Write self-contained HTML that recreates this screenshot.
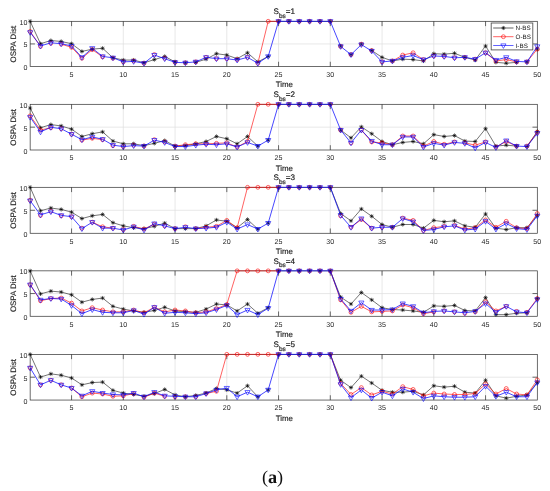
<!DOCTYPE html>
<html><head><meta charset="utf-8"><title>OSPA Dist</title>
<style>html,body{margin:0;padding:0;background:#fff}body{width:550px;height:491px;overflow:hidden}</style>
</head><body>
<svg width="550" height="491" viewBox="0 0 550 491" style="display:block;font-family:'Liberation Sans',sans-serif;text-rendering:geometricPrecision">
<rect width="550" height="491" fill="#fff"/>
<path d="M71.55 21.31V66.55M123.30 21.31V66.55M175.05 21.31V66.55M226.80 21.31V66.55M278.55 21.31V66.55M330.30 21.31V66.55M382.05 21.31V66.55M433.80 21.31V66.55M485.55 21.31V66.55M30.15 43.93H537.30" stroke="#dedede" stroke-width="0.7" fill="none"/>
<rect x="30.15" y="21.31" width="507.15" height="45.24" fill="none" stroke="#2e2e2e" stroke-width="0.7"/>
<path d="M71.55 66.55v-4.8M71.55 21.31v4.8M123.30 66.55v-4.8M123.30 21.31v4.8M175.05 66.55v-4.8M175.05 21.31v4.8M226.80 66.55v-4.8M226.80 21.31v4.8M278.55 66.55v-4.8M278.55 21.31v4.8M330.30 66.55v-4.8M330.30 21.31v4.8M382.05 66.55v-4.8M382.05 21.31v4.8M433.80 66.55v-4.8M433.80 21.31v4.8M485.55 66.55v-4.8M485.55 21.31v4.8M30.15 43.93h4.8M537.30 43.93h-4.8" stroke="#2e2e2e" stroke-width="0.7" fill="none"/>
<text x="71.55" y="76.95" font-size="7.1" fill="#262626" text-anchor="middle">5</text>
<text x="123.30" y="76.95" font-size="7.1" fill="#262626" text-anchor="middle">10</text>
<text x="175.05" y="76.95" font-size="7.1" fill="#262626" text-anchor="middle">15</text>
<text x="226.80" y="76.95" font-size="7.1" fill="#262626" text-anchor="middle">20</text>
<text x="278.55" y="76.95" font-size="7.1" fill="#262626" text-anchor="middle">25</text>
<text x="330.30" y="76.95" font-size="7.1" fill="#262626" text-anchor="middle">30</text>
<text x="382.05" y="76.95" font-size="7.1" fill="#262626" text-anchor="middle">35</text>
<text x="433.80" y="76.95" font-size="7.1" fill="#262626" text-anchor="middle">40</text>
<text x="485.55" y="76.95" font-size="7.1" fill="#262626" text-anchor="middle">45</text>
<text x="537.30" y="76.95" font-size="7.1" fill="#262626" text-anchor="middle">50</text>
<text x="27.35" y="70.05" font-size="7.1" fill="#262626" text-anchor="end">0</text>
<text x="27.35" y="47.43" font-size="7.1" fill="#262626" text-anchor="end">5</text>
<text x="27.35" y="24.81" font-size="7.1" fill="#262626" text-anchor="end">10</text>
<text x="284.32" y="87.25" font-size="7.9" fill="#262626" stroke="#262626" stroke-width="0.15" text-anchor="middle">Time</text>
<text transform="translate(15.8 44.13) rotate(-90)" font-size="7.9" fill="#262626" stroke="#262626" stroke-width="0.15" text-anchor="middle">OSPA Dist</text>
<text x="284.22" y="14.31" font-size="8.1" fill="#1a1a1a" stroke="#1a1a1a" stroke-width="0.18" text-anchor="middle">S<tspan font-size="6.48" dy="3.6">bs</tspan><tspan dy="-3.6">=1</tspan></text>
<path d="M30.15 21.31L40.50 43.71L50.85 40.53L61.20 41.44L71.55 43.71L81.90 51.43L92.25 49.16L102.60 48.25L112.95 57.79L123.30 60.06L133.65 60.06L144.00 62.79L154.35 59.61L164.70 56.43L175.05 61.88M195.75 62.33L206.10 59.15L216.45 53.70L226.80 55.06L237.15 58.70L247.50 52.79L257.85 61.88L268.20 56.43M371.70 50.52L382.05 57.34L392.40 60.97L402.75 59.15L413.10 59.61L423.45 60.97L433.80 53.70L444.15 54.16L454.50 53.25L464.85 57.34L475.20 60.06L485.55 45.98L495.90 62.33L506.25 63.24L516.60 62.33" stroke="#000000" stroke-width="0.55" fill="none" stroke-linejoin="round"/>
<path d="M28.05 21.31L32.25 21.31M28.67 19.83L31.63 22.79M30.15 19.21L30.15 23.41M31.63 19.83L28.67 22.79" stroke="#000000" stroke-width="0.6" fill="none"/>
<path d="M38.40 43.71L42.60 43.71M39.02 42.23L41.98 45.19M40.50 41.61L40.50 45.81M41.98 42.23L39.02 45.19" stroke="#000000" stroke-width="0.6" fill="none"/>
<path d="M48.75 40.53L52.95 40.53M49.37 39.05L52.33 42.02M50.85 38.43L50.85 42.63M52.33 39.05L49.37 42.02" stroke="#000000" stroke-width="0.6" fill="none"/>
<path d="M59.10 41.44L63.30 41.44M59.72 39.95L62.68 42.92M61.20 39.34L61.20 43.54M62.68 39.95L59.72 42.92" stroke="#000000" stroke-width="0.6" fill="none"/>
<path d="M69.45 43.71L73.65 43.71M70.07 42.23L73.03 45.19M71.55 41.61L71.55 45.81M73.03 42.23L70.07 45.19" stroke="#000000" stroke-width="0.6" fill="none"/>
<path d="M79.80 51.43L84.00 51.43M80.42 49.95L83.38 52.92M81.90 49.33L81.90 53.53M83.38 49.95L80.42 52.92" stroke="#000000" stroke-width="0.6" fill="none"/>
<path d="M90.15 49.16L94.35 49.16M90.77 47.68L93.73 50.65M92.25 47.06L92.25 51.26M93.73 47.68L90.77 50.65" stroke="#000000" stroke-width="0.6" fill="none"/>
<path d="M100.50 48.25L104.70 48.25M101.12 46.77L104.08 49.74M102.60 46.15L102.60 50.35M104.08 46.77L101.12 49.74" stroke="#000000" stroke-width="0.6" fill="none"/>
<path d="M110.85 57.79L115.05 57.79M111.47 56.31L114.43 59.28M112.95 55.69L112.95 59.89M114.43 56.31L111.47 59.28" stroke="#000000" stroke-width="0.6" fill="none"/>
<path d="M121.20 60.06L125.40 60.06M121.82 58.58L124.78 61.55M123.30 57.96L123.30 62.16M124.78 58.58L121.82 61.55" stroke="#000000" stroke-width="0.6" fill="none"/>
<path d="M131.55 60.06L135.75 60.06M132.17 58.58L135.13 61.55M133.65 57.96L133.65 62.16M135.13 58.58L132.17 61.55" stroke="#000000" stroke-width="0.6" fill="none"/>
<path d="M141.90 62.79L146.10 62.79M142.52 61.30L145.48 64.27M144.00 60.69L144.00 64.89M145.48 61.30L142.52 64.27" stroke="#000000" stroke-width="0.6" fill="none"/>
<path d="M152.25 59.61L156.45 59.61M152.87 58.12L155.83 61.09M154.35 57.51L154.35 61.71M155.83 58.12L152.87 61.09" stroke="#000000" stroke-width="0.6" fill="none"/>
<path d="M162.60 56.43L166.80 56.43M163.22 54.94L166.18 57.91M164.70 54.33L164.70 58.53M166.18 54.94L163.22 57.91" stroke="#000000" stroke-width="0.6" fill="none"/>
<path d="M172.95 61.88L177.15 61.88M173.57 60.39L176.53 63.36M175.05 59.78L175.05 63.98M176.53 60.39L173.57 63.36" stroke="#000000" stroke-width="0.6" fill="none"/>
<path d="M183.30 62.79L187.50 62.79M183.92 61.30L186.88 64.27M185.40 60.69L185.40 64.89M186.88 61.30L183.92 64.27" stroke="#000000" stroke-width="0.6" fill="none"/>
<path d="M193.65 62.33L197.85 62.33M194.27 60.85L197.23 63.82M195.75 60.23L195.75 64.43M197.23 60.85L194.27 63.82" stroke="#000000" stroke-width="0.6" fill="none"/>
<path d="M204.00 59.15L208.20 59.15M204.62 57.67L207.58 60.64M206.10 57.05L206.10 61.25M207.58 57.67L204.62 60.64" stroke="#000000" stroke-width="0.6" fill="none"/>
<path d="M214.35 53.70L218.55 53.70M214.97 52.22L217.93 55.19M216.45 51.60L216.45 55.80M217.93 52.22L214.97 55.19" stroke="#000000" stroke-width="0.6" fill="none"/>
<path d="M224.70 55.06L228.90 55.06M225.32 53.58L228.28 56.55M226.80 52.96L226.80 57.16M228.28 53.58L225.32 56.55" stroke="#000000" stroke-width="0.6" fill="none"/>
<path d="M235.05 58.70L239.25 58.70M235.67 57.21L238.63 60.18M237.15 56.60L237.15 60.80M238.63 57.21L235.67 60.18" stroke="#000000" stroke-width="0.6" fill="none"/>
<path d="M245.40 52.79L249.60 52.79M246.02 51.31L248.98 54.28M247.50 50.69L247.50 54.89M248.98 51.31L246.02 54.28" stroke="#000000" stroke-width="0.6" fill="none"/>
<path d="M255.75 61.88L259.95 61.88M256.37 60.39L259.33 63.36M257.85 59.78L257.85 63.98M259.33 60.39L256.37 63.36" stroke="#000000" stroke-width="0.6" fill="none"/>
<path d="M266.10 56.43L270.30 56.43M266.72 54.94L269.68 57.91M268.20 54.33L268.20 58.53M269.68 54.94L266.72 57.91" stroke="#000000" stroke-width="0.6" fill="none"/>
<path d="M276.45 21.31L280.65 21.31M277.07 19.83L280.03 22.79M278.55 19.21L278.55 23.41M280.03 19.83L277.07 22.79" stroke="#000000" stroke-width="0.6" fill="none"/>
<path d="M286.80 21.31L291.00 21.31M287.42 19.83L290.38 22.79M288.90 19.21L288.90 23.41M290.38 19.83L287.42 22.79" stroke="#000000" stroke-width="0.6" fill="none"/>
<path d="M297.15 21.31L301.35 21.31M297.77 19.83L300.73 22.79M299.25 19.21L299.25 23.41M300.73 19.83L297.77 22.79" stroke="#000000" stroke-width="0.6" fill="none"/>
<path d="M307.50 21.31L311.70 21.31M308.12 19.83L311.08 22.79M309.60 19.21L309.60 23.41M311.08 19.83L308.12 22.79" stroke="#000000" stroke-width="0.6" fill="none"/>
<path d="M317.85 21.31L322.05 21.31M318.47 19.83L321.43 22.79M319.95 19.21L319.95 23.41M321.43 19.83L318.47 22.79" stroke="#000000" stroke-width="0.6" fill="none"/>
<path d="M328.20 21.31L332.40 21.31M328.82 19.83L331.78 22.79M330.30 19.21L330.30 23.41M331.78 19.83L328.82 22.79" stroke="#000000" stroke-width="0.6" fill="none"/>
<path d="M338.55 45.98L342.75 45.98M339.17 44.50L342.13 47.47M340.65 43.88L340.65 48.08M342.13 44.50L339.17 47.47" stroke="#000000" stroke-width="0.6" fill="none"/>
<path d="M348.90 54.61L353.10 54.61M349.52 53.13L352.48 56.10M351.00 52.51L351.00 56.71M352.48 53.13L349.52 56.10" stroke="#000000" stroke-width="0.6" fill="none"/>
<path d="M359.25 44.16L363.45 44.16M359.87 42.68L362.83 45.65M361.35 42.06L361.35 46.26M362.83 42.68L359.87 45.65" stroke="#000000" stroke-width="0.6" fill="none"/>
<path d="M369.60 50.52L373.80 50.52M370.22 49.04L373.18 52.01M371.70 48.42L371.70 52.62M373.18 49.04L370.22 52.01" stroke="#000000" stroke-width="0.6" fill="none"/>
<path d="M379.95 57.34L384.15 57.34M380.57 55.85L383.53 58.82M382.05 55.24L382.05 59.44M383.53 55.85L380.57 58.82" stroke="#000000" stroke-width="0.6" fill="none"/>
<path d="M390.30 60.97L394.50 60.97M390.92 59.48L393.88 62.45M392.40 58.87L392.40 63.07M393.88 59.48L390.92 62.45" stroke="#000000" stroke-width="0.6" fill="none"/>
<path d="M400.65 59.15L404.85 59.15M401.27 57.67L404.23 60.64M402.75 57.05L402.75 61.25M404.23 57.67L401.27 60.64" stroke="#000000" stroke-width="0.6" fill="none"/>
<path d="M411.00 59.61L415.20 59.61M411.62 58.12L414.58 61.09M413.10 57.51L413.10 61.71M414.58 58.12L411.62 61.09" stroke="#000000" stroke-width="0.6" fill="none"/>
<path d="M421.35 60.97L425.55 60.97M421.97 59.48L424.93 62.45M423.45 58.87L423.45 63.07M424.93 59.48L421.97 62.45" stroke="#000000" stroke-width="0.6" fill="none"/>
<path d="M431.70 53.70L435.90 53.70M432.32 52.22L435.28 55.19M433.80 51.60L433.80 55.80M435.28 52.22L432.32 55.19" stroke="#000000" stroke-width="0.6" fill="none"/>
<path d="M442.05 54.16L446.25 54.16M442.67 52.67L445.63 55.64M444.15 52.06L444.15 56.26M445.63 52.67L442.67 55.64" stroke="#000000" stroke-width="0.6" fill="none"/>
<path d="M452.40 53.25L456.60 53.25M453.02 51.76L455.98 54.73M454.50 51.15L454.50 55.35M455.98 51.76L453.02 54.73" stroke="#000000" stroke-width="0.6" fill="none"/>
<path d="M462.75 57.34L466.95 57.34M463.37 55.85L466.33 58.82M464.85 55.24L464.85 59.44M466.33 55.85L463.37 58.82" stroke="#000000" stroke-width="0.6" fill="none"/>
<path d="M473.10 60.06L477.30 60.06M473.72 58.58L476.68 61.55M475.20 57.96L475.20 62.16M476.68 58.58L473.72 61.55" stroke="#000000" stroke-width="0.6" fill="none"/>
<path d="M483.45 45.98L487.65 45.98M484.07 44.50L487.03 47.47M485.55 43.88L485.55 48.08M487.03 44.50L484.07 47.47" stroke="#000000" stroke-width="0.6" fill="none"/>
<path d="M493.80 62.33L498.00 62.33M494.42 60.85L497.38 63.82M495.90 60.23L495.90 64.43M497.38 60.85L494.42 63.82" stroke="#000000" stroke-width="0.6" fill="none"/>
<path d="M504.15 63.24L508.35 63.24M504.77 61.76L507.73 64.73M506.25 61.14L506.25 65.34M507.73 61.76L504.77 64.73" stroke="#000000" stroke-width="0.6" fill="none"/>
<path d="M514.50 62.33L518.70 62.33M515.12 60.85L518.08 63.82M516.60 60.23L516.60 64.43M518.08 60.85L515.12 63.82" stroke="#000000" stroke-width="0.6" fill="none"/>
<path d="M524.85 61.88L529.05 61.88M525.47 60.39L528.43 63.36M526.95 59.78L526.95 63.98M528.43 60.39L525.47 63.36" stroke="#000000" stroke-width="0.6" fill="none"/>
<path d="M535.20 49.16L539.40 49.16M535.82 47.68L538.78 50.65M537.30 47.06L537.30 51.26M538.78 47.68L535.82 50.65" stroke="#000000" stroke-width="0.6" fill="none"/>
<path d="M30.15 31.45L40.50 46.44M61.20 44.16L71.55 47.34L81.90 58.24L92.25 49.61L102.60 56.88M257.85 63.24L268.20 21.31L278.55 21.31M392.40 60.97L402.75 55.06L413.10 52.79L423.45 59.61M485.55 52.79L495.90 60.97L506.25 59.61L516.60 61.88M526.95 61.88L537.30 49.16" stroke="#ff0000" stroke-width="0.62" fill="none" stroke-linejoin="round"/>
<circle cx="30.15" cy="31.45" r="1.95" stroke="#ff0000" stroke-width="0.6" fill="none"/>
<circle cx="40.50" cy="46.44" r="1.95" stroke="#ff0000" stroke-width="0.6" fill="none"/>
<circle cx="50.85" cy="43.26" r="1.95" stroke="#ff0000" stroke-width="0.6" fill="none"/>
<circle cx="61.20" cy="44.16" r="1.95" stroke="#ff0000" stroke-width="0.6" fill="none"/>
<circle cx="71.55" cy="47.34" r="1.95" stroke="#ff0000" stroke-width="0.6" fill="none"/>
<circle cx="81.90" cy="58.24" r="1.95" stroke="#ff0000" stroke-width="0.6" fill="none"/>
<circle cx="92.25" cy="49.61" r="1.95" stroke="#ff0000" stroke-width="0.6" fill="none"/>
<circle cx="102.60" cy="56.88" r="1.95" stroke="#ff0000" stroke-width="0.6" fill="none"/>
<circle cx="112.95" cy="58.24" r="1.95" stroke="#ff0000" stroke-width="0.6" fill="none"/>
<circle cx="123.30" cy="61.88" r="1.95" stroke="#ff0000" stroke-width="0.6" fill="none"/>
<circle cx="133.65" cy="60.97" r="1.95" stroke="#ff0000" stroke-width="0.6" fill="none"/>
<circle cx="144.00" cy="63.24" r="1.95" stroke="#ff0000" stroke-width="0.6" fill="none"/>
<circle cx="154.35" cy="54.61" r="1.95" stroke="#ff0000" stroke-width="0.6" fill="none"/>
<circle cx="164.70" cy="58.24" r="1.95" stroke="#ff0000" stroke-width="0.6" fill="none"/>
<circle cx="175.05" cy="62.33" r="1.95" stroke="#ff0000" stroke-width="0.6" fill="none"/>
<circle cx="185.40" cy="62.79" r="1.95" stroke="#ff0000" stroke-width="0.6" fill="none"/>
<circle cx="195.75" cy="61.88" r="1.95" stroke="#ff0000" stroke-width="0.6" fill="none"/>
<circle cx="206.10" cy="57.34" r="1.95" stroke="#ff0000" stroke-width="0.6" fill="none"/>
<circle cx="216.45" cy="58.70" r="1.95" stroke="#ff0000" stroke-width="0.6" fill="none"/>
<circle cx="226.80" cy="58.70" r="1.95" stroke="#ff0000" stroke-width="0.6" fill="none"/>
<circle cx="237.15" cy="59.61" r="1.95" stroke="#ff0000" stroke-width="0.6" fill="none"/>
<circle cx="247.50" cy="57.34" r="1.95" stroke="#ff0000" stroke-width="0.6" fill="none"/>
<circle cx="257.85" cy="63.24" r="1.95" stroke="#ff0000" stroke-width="0.6" fill="none"/>
<circle cx="268.20" cy="21.31" r="1.95" stroke="#ff0000" stroke-width="0.6" fill="none"/>
<circle cx="278.55" cy="21.31" r="1.95" stroke="#ff0000" stroke-width="0.6" fill="none"/>
<circle cx="288.90" cy="21.31" r="1.95" stroke="#ff0000" stroke-width="0.6" fill="none"/>
<circle cx="299.25" cy="21.31" r="1.95" stroke="#ff0000" stroke-width="0.6" fill="none"/>
<circle cx="309.60" cy="21.31" r="1.95" stroke="#ff0000" stroke-width="0.6" fill="none"/>
<circle cx="319.95" cy="21.31" r="1.95" stroke="#ff0000" stroke-width="0.6" fill="none"/>
<circle cx="330.30" cy="21.31" r="1.95" stroke="#ff0000" stroke-width="0.6" fill="none"/>
<circle cx="340.65" cy="46.44" r="1.95" stroke="#ff0000" stroke-width="0.6" fill="none"/>
<circle cx="351.00" cy="54.61" r="1.95" stroke="#ff0000" stroke-width="0.6" fill="none"/>
<circle cx="361.35" cy="44.16" r="1.95" stroke="#ff0000" stroke-width="0.6" fill="none"/>
<circle cx="371.70" cy="50.52" r="1.95" stroke="#ff0000" stroke-width="0.6" fill="none"/>
<circle cx="382.05" cy="61.88" r="1.95" stroke="#ff0000" stroke-width="0.6" fill="none"/>
<circle cx="392.40" cy="60.97" r="1.95" stroke="#ff0000" stroke-width="0.6" fill="none"/>
<circle cx="402.75" cy="55.06" r="1.95" stroke="#ff0000" stroke-width="0.6" fill="none"/>
<circle cx="413.10" cy="52.79" r="1.95" stroke="#ff0000" stroke-width="0.6" fill="none"/>
<circle cx="423.45" cy="59.61" r="1.95" stroke="#ff0000" stroke-width="0.6" fill="none"/>
<circle cx="433.80" cy="55.97" r="1.95" stroke="#ff0000" stroke-width="0.6" fill="none"/>
<circle cx="444.15" cy="56.43" r="1.95" stroke="#ff0000" stroke-width="0.6" fill="none"/>
<circle cx="454.50" cy="57.79" r="1.95" stroke="#ff0000" stroke-width="0.6" fill="none"/>
<circle cx="464.85" cy="57.34" r="1.95" stroke="#ff0000" stroke-width="0.6" fill="none"/>
<circle cx="475.20" cy="59.15" r="1.95" stroke="#ff0000" stroke-width="0.6" fill="none"/>
<circle cx="485.55" cy="52.79" r="1.95" stroke="#ff0000" stroke-width="0.6" fill="none"/>
<circle cx="495.90" cy="60.97" r="1.95" stroke="#ff0000" stroke-width="0.6" fill="none"/>
<circle cx="506.25" cy="59.61" r="1.95" stroke="#ff0000" stroke-width="0.6" fill="none"/>
<circle cx="516.60" cy="61.88" r="1.95" stroke="#ff0000" stroke-width="0.6" fill="none"/>
<circle cx="526.95" cy="61.88" r="1.95" stroke="#ff0000" stroke-width="0.6" fill="none"/>
<circle cx="537.30" cy="49.16" r="1.95" stroke="#ff0000" stroke-width="0.6" fill="none"/>
<path d="M30.15 32.36L40.50 45.98L50.85 42.80L61.20 43.71L71.55 45.98L81.90 57.34L92.25 48.25L102.60 56.43L112.95 57.79L123.30 61.88L133.65 61.42L144.00 63.24L154.35 55.06L164.70 58.70L175.05 62.33L185.40 62.79L195.75 61.88L206.10 57.34L216.45 58.70L226.80 58.70L237.15 60.06L247.50 57.34L257.85 63.24L268.20 56.43L278.55 21.31L288.90 21.31L299.25 21.31L309.60 21.31L319.95 21.31L330.30 21.31L340.65 46.44L351.00 54.61L361.35 44.62L371.70 50.98L382.05 61.88L392.40 60.97L402.75 57.34L413.10 55.52L423.45 59.61L433.80 55.97L444.15 56.43L454.50 57.79L464.85 57.34L475.20 59.15L485.55 52.79L495.90 60.06L506.25 57.34L516.60 61.42L526.95 61.88L537.30 46.44" stroke="#0000ff" stroke-width="0.72" fill="none" stroke-linejoin="round"/>
<path d="M27.55 30.76L32.75 30.76L30.15 35.26Z" stroke="#0000ff" stroke-width="0.6" fill="none"/>
<path d="M37.90 44.38L43.10 44.38L40.50 48.88Z" stroke="#0000ff" stroke-width="0.6" fill="none"/>
<path d="M48.25 41.20L53.45 41.20L50.85 45.70Z" stroke="#0000ff" stroke-width="0.6" fill="none"/>
<path d="M58.60 42.11L63.80 42.11L61.20 46.61Z" stroke="#0000ff" stroke-width="0.6" fill="none"/>
<path d="M68.95 44.38L74.15 44.38L71.55 48.88Z" stroke="#0000ff" stroke-width="0.6" fill="none"/>
<path d="M79.30 55.74L84.50 55.74L81.90 60.24Z" stroke="#0000ff" stroke-width="0.6" fill="none"/>
<path d="M89.65 46.65L94.85 46.65L92.25 51.15Z" stroke="#0000ff" stroke-width="0.6" fill="none"/>
<path d="M100.00 54.83L105.20 54.83L102.60 59.33Z" stroke="#0000ff" stroke-width="0.6" fill="none"/>
<path d="M110.35 56.19L115.55 56.19L112.95 60.69Z" stroke="#0000ff" stroke-width="0.6" fill="none"/>
<path d="M120.70 60.28L125.90 60.28L123.30 64.78Z" stroke="#0000ff" stroke-width="0.6" fill="none"/>
<path d="M131.05 59.82L136.25 59.82L133.65 64.32Z" stroke="#0000ff" stroke-width="0.6" fill="none"/>
<path d="M141.40 61.64L146.60 61.64L144.00 66.14Z" stroke="#0000ff" stroke-width="0.6" fill="none"/>
<path d="M151.75 53.46L156.95 53.46L154.35 57.96Z" stroke="#0000ff" stroke-width="0.6" fill="none"/>
<path d="M162.10 57.10L167.30 57.10L164.70 61.60Z" stroke="#0000ff" stroke-width="0.6" fill="none"/>
<path d="M172.45 60.73L177.65 60.73L175.05 65.23Z" stroke="#0000ff" stroke-width="0.6" fill="none"/>
<path d="M182.80 61.19L188.00 61.19L185.40 65.69Z" stroke="#0000ff" stroke-width="0.6" fill="none"/>
<path d="M193.15 60.28L198.35 60.28L195.75 64.78Z" stroke="#0000ff" stroke-width="0.6" fill="none"/>
<path d="M203.50 55.74L208.70 55.74L206.10 60.24Z" stroke="#0000ff" stroke-width="0.6" fill="none"/>
<path d="M213.85 57.10L219.05 57.10L216.45 61.60Z" stroke="#0000ff" stroke-width="0.6" fill="none"/>
<path d="M224.20 57.10L229.40 57.10L226.80 61.60Z" stroke="#0000ff" stroke-width="0.6" fill="none"/>
<path d="M234.55 58.46L239.75 58.46L237.15 62.96Z" stroke="#0000ff" stroke-width="0.6" fill="none"/>
<path d="M244.90 55.74L250.10 55.74L247.50 60.24Z" stroke="#0000ff" stroke-width="0.6" fill="none"/>
<path d="M255.25 61.64L260.45 61.64L257.85 66.14Z" stroke="#0000ff" stroke-width="0.6" fill="none"/>
<path d="M265.60 54.83L270.80 54.83L268.20 59.33Z" stroke="#0000ff" stroke-width="0.6" fill="none"/>
<path d="M275.95 19.71L281.15 19.71L278.55 24.21Z" stroke="#0000ff" stroke-width="0.6" fill="none"/>
<path d="M286.30 19.71L291.50 19.71L288.90 24.21Z" stroke="#0000ff" stroke-width="0.6" fill="none"/>
<path d="M296.65 19.71L301.85 19.71L299.25 24.21Z" stroke="#0000ff" stroke-width="0.6" fill="none"/>
<path d="M307.00 19.71L312.20 19.71L309.60 24.21Z" stroke="#0000ff" stroke-width="0.6" fill="none"/>
<path d="M317.35 19.71L322.55 19.71L319.95 24.21Z" stroke="#0000ff" stroke-width="0.6" fill="none"/>
<path d="M327.70 19.71L332.90 19.71L330.30 24.21Z" stroke="#0000ff" stroke-width="0.6" fill="none"/>
<path d="M338.05 44.84L343.25 44.84L340.65 49.34Z" stroke="#0000ff" stroke-width="0.6" fill="none"/>
<path d="M348.40 53.01L353.60 53.01L351.00 57.51Z" stroke="#0000ff" stroke-width="0.6" fill="none"/>
<path d="M358.75 43.02L363.95 43.02L361.35 47.52Z" stroke="#0000ff" stroke-width="0.6" fill="none"/>
<path d="M369.10 49.38L374.30 49.38L371.70 53.88Z" stroke="#0000ff" stroke-width="0.6" fill="none"/>
<path d="M379.45 60.28L384.65 60.28L382.05 64.78Z" stroke="#0000ff" stroke-width="0.6" fill="none"/>
<path d="M389.80 59.37L395.00 59.37L392.40 63.87Z" stroke="#0000ff" stroke-width="0.6" fill="none"/>
<path d="M400.15 55.74L405.35 55.74L402.75 60.24Z" stroke="#0000ff" stroke-width="0.6" fill="none"/>
<path d="M410.50 53.92L415.70 53.92L413.10 58.42Z" stroke="#0000ff" stroke-width="0.6" fill="none"/>
<path d="M420.85 58.01L426.05 58.01L423.45 62.51Z" stroke="#0000ff" stroke-width="0.6" fill="none"/>
<path d="M431.20 54.37L436.40 54.37L433.80 58.87Z" stroke="#0000ff" stroke-width="0.6" fill="none"/>
<path d="M441.55 54.83L446.75 54.83L444.15 59.33Z" stroke="#0000ff" stroke-width="0.6" fill="none"/>
<path d="M451.90 56.19L457.10 56.19L454.50 60.69Z" stroke="#0000ff" stroke-width="0.6" fill="none"/>
<path d="M462.25 55.74L467.45 55.74L464.85 60.24Z" stroke="#0000ff" stroke-width="0.6" fill="none"/>
<path d="M472.60 57.55L477.80 57.55L475.20 62.05Z" stroke="#0000ff" stroke-width="0.6" fill="none"/>
<path d="M482.95 51.19L488.15 51.19L485.55 55.69Z" stroke="#0000ff" stroke-width="0.6" fill="none"/>
<path d="M493.30 58.46L498.50 58.46L495.90 62.96Z" stroke="#0000ff" stroke-width="0.6" fill="none"/>
<path d="M503.65 55.74L508.85 55.74L506.25 60.24Z" stroke="#0000ff" stroke-width="0.6" fill="none"/>
<path d="M514.00 59.82L519.20 59.82L516.60 64.32Z" stroke="#0000ff" stroke-width="0.6" fill="none"/>
<path d="M524.35 60.28L529.55 60.28L526.95 64.78Z" stroke="#0000ff" stroke-width="0.6" fill="none"/>
<path d="M534.70 44.84L539.90 44.84L537.30 49.34Z" stroke="#0000ff" stroke-width="0.6" fill="none"/>
<path d="M71.55 104.31V150.00M123.30 104.31V150.00M175.05 104.31V150.00M226.80 104.31V150.00M278.55 104.31V150.00M330.30 104.31V150.00M382.05 104.31V150.00M433.80 104.31V150.00M485.55 104.31V150.00M30.15 127.16H537.30" stroke="#dedede" stroke-width="0.7" fill="none"/>
<rect x="30.15" y="104.31" width="507.15" height="45.69" fill="none" stroke="#2e2e2e" stroke-width="0.7"/>
<path d="M71.55 150.00v-4.8M71.55 104.31v4.8M123.30 150.00v-4.8M123.30 104.31v4.8M175.05 150.00v-4.8M175.05 104.31v4.8M226.80 150.00v-4.8M226.80 104.31v4.8M278.55 150.00v-4.8M278.55 104.31v4.8M330.30 150.00v-4.8M330.30 104.31v4.8M382.05 150.00v-4.8M382.05 104.31v4.8M433.80 150.00v-4.8M433.80 104.31v4.8M485.55 150.00v-4.8M485.55 104.31v4.8M30.15 127.16h4.8M537.30 127.16h-4.8" stroke="#2e2e2e" stroke-width="0.7" fill="none"/>
<text x="71.55" y="160.40" font-size="7.1" fill="#262626" text-anchor="middle">5</text>
<text x="123.30" y="160.40" font-size="7.1" fill="#262626" text-anchor="middle">10</text>
<text x="175.05" y="160.40" font-size="7.1" fill="#262626" text-anchor="middle">15</text>
<text x="226.80" y="160.40" font-size="7.1" fill="#262626" text-anchor="middle">20</text>
<text x="278.55" y="160.40" font-size="7.1" fill="#262626" text-anchor="middle">25</text>
<text x="330.30" y="160.40" font-size="7.1" fill="#262626" text-anchor="middle">30</text>
<text x="382.05" y="160.40" font-size="7.1" fill="#262626" text-anchor="middle">35</text>
<text x="433.80" y="160.40" font-size="7.1" fill="#262626" text-anchor="middle">40</text>
<text x="485.55" y="160.40" font-size="7.1" fill="#262626" text-anchor="middle">45</text>
<text x="537.30" y="160.40" font-size="7.1" fill="#262626" text-anchor="middle">50</text>
<text x="27.35" y="153.50" font-size="7.1" fill="#262626" text-anchor="end">0</text>
<text x="27.35" y="130.66" font-size="7.1" fill="#262626" text-anchor="end">5</text>
<text x="27.35" y="107.81" font-size="7.1" fill="#262626" text-anchor="end">10</text>
<text x="284.32" y="170.70" font-size="7.9" fill="#262626" stroke="#262626" stroke-width="0.15" text-anchor="middle">Time</text>
<text transform="translate(15.8 127.36) rotate(-90)" font-size="7.9" fill="#262626" stroke="#262626" stroke-width="0.15" text-anchor="middle">OSPA Dist</text>
<text x="284.22" y="97.31" font-size="8.1" fill="#1a1a1a" stroke="#1a1a1a" stroke-width="0.18" text-anchor="middle">S<tspan font-size="6.48" dy="3.6">bs</tspan><tspan dy="-3.6">=2</tspan></text>
<path d="M30.15 108.08L40.50 127.77L50.85 124.56L61.20 125.94L71.55 129.14L81.90 136.47L92.25 133.72L102.60 131.89L112.95 141.05L123.30 143.80L133.65 143.80L144.00 145.63L154.35 143.34L164.70 140.59L175.05 146.09L185.40 145.63L195.75 143.80L206.10 141.51L216.45 136.47L226.80 138.76L237.15 143.80L247.50 136.47L257.85 146.09M340.65 130.06L351.00 137.85L361.35 126.85L371.70 133.72L382.05 141.51L392.40 144.72L402.75 142.43L413.10 141.51L423.45 143.80L433.80 134.64L444.15 136.47L454.50 135.56L464.85 141.05L475.20 141.51L485.55 128.69L495.90 146.09L506.25 145.17L516.60 146.09M526.95 146.55L537.30 131.43" stroke="#000000" stroke-width="0.55" fill="none" stroke-linejoin="round"/>
<path d="M28.05 108.08L32.25 108.08M28.67 106.59L31.63 109.56M30.15 105.98L30.15 110.18M31.63 106.59L28.67 109.56" stroke="#000000" stroke-width="0.6" fill="none"/>
<path d="M38.40 127.77L42.60 127.77M39.02 126.29L41.98 129.25M40.50 125.67L40.50 129.87M41.98 126.29L39.02 129.25" stroke="#000000" stroke-width="0.6" fill="none"/>
<path d="M48.75 124.56L52.95 124.56M49.37 123.08L52.33 126.05M50.85 122.46L50.85 126.66M52.33 123.08L49.37 126.05" stroke="#000000" stroke-width="0.6" fill="none"/>
<path d="M59.10 125.94L63.30 125.94M59.72 124.45L62.68 127.42M61.20 123.84L61.20 128.04M62.68 124.45L59.72 127.42" stroke="#000000" stroke-width="0.6" fill="none"/>
<path d="M69.45 129.14L73.65 129.14M70.07 127.66L73.03 130.63M71.55 127.04L71.55 131.24M73.03 127.66L70.07 130.63" stroke="#000000" stroke-width="0.6" fill="none"/>
<path d="M79.80 136.47L84.00 136.47M80.42 134.99L83.38 137.96M81.90 134.37L81.90 138.57M83.38 134.99L80.42 137.96" stroke="#000000" stroke-width="0.6" fill="none"/>
<path d="M90.15 133.72L94.35 133.72M90.77 132.24L93.73 135.21M92.25 131.62L92.25 135.82M93.73 132.24L90.77 135.21" stroke="#000000" stroke-width="0.6" fill="none"/>
<path d="M100.50 131.89L104.70 131.89M101.12 130.41L104.08 133.38M102.60 129.79L102.60 133.99M104.08 130.41L101.12 133.38" stroke="#000000" stroke-width="0.6" fill="none"/>
<path d="M110.85 141.05L115.05 141.05M111.47 139.57L114.43 142.54M112.95 138.95L112.95 143.15M114.43 139.57L111.47 142.54" stroke="#000000" stroke-width="0.6" fill="none"/>
<path d="M121.20 143.80L125.40 143.80M121.82 142.32L124.78 145.28M123.30 141.70L123.30 145.90M124.78 142.32L121.82 145.28" stroke="#000000" stroke-width="0.6" fill="none"/>
<path d="M131.55 143.80L135.75 143.80M132.17 142.32L135.13 145.28M133.65 141.70L133.65 145.90M135.13 142.32L132.17 145.28" stroke="#000000" stroke-width="0.6" fill="none"/>
<path d="M141.90 145.63L146.10 145.63M142.52 144.15L145.48 147.12M144.00 143.53L144.00 147.73M145.48 144.15L142.52 147.12" stroke="#000000" stroke-width="0.6" fill="none"/>
<path d="M152.25 143.34L156.45 143.34M152.87 141.86L155.83 144.83M154.35 141.24L154.35 145.44M155.83 141.86L152.87 144.83" stroke="#000000" stroke-width="0.6" fill="none"/>
<path d="M162.60 140.59L166.80 140.59M163.22 139.11L166.18 142.08M164.70 138.49L164.70 142.69M166.18 139.11L163.22 142.08" stroke="#000000" stroke-width="0.6" fill="none"/>
<path d="M172.95 146.09L177.15 146.09M173.57 144.61L176.53 147.57M175.05 143.99L175.05 148.19M176.53 144.61L173.57 147.57" stroke="#000000" stroke-width="0.6" fill="none"/>
<path d="M183.30 145.63L187.50 145.63M183.92 144.15L186.88 147.12M185.40 143.53L185.40 147.73M186.88 144.15L183.92 147.12" stroke="#000000" stroke-width="0.6" fill="none"/>
<path d="M193.65 143.80L197.85 143.80M194.27 142.32L197.23 145.28M195.75 141.70L195.75 145.90M197.23 142.32L194.27 145.28" stroke="#000000" stroke-width="0.6" fill="none"/>
<path d="M204.00 141.51L208.20 141.51M204.62 140.03L207.58 142.99M206.10 139.41L206.10 143.61M207.58 140.03L204.62 142.99" stroke="#000000" stroke-width="0.6" fill="none"/>
<path d="M214.35 136.47L218.55 136.47M214.97 134.99L217.93 137.96M216.45 134.37L216.45 138.57M217.93 134.99L214.97 137.96" stroke="#000000" stroke-width="0.6" fill="none"/>
<path d="M224.70 138.76L228.90 138.76M225.32 137.28L228.28 140.25M226.80 136.66L226.80 140.86M228.28 137.28L225.32 140.25" stroke="#000000" stroke-width="0.6" fill="none"/>
<path d="M235.05 143.80L239.25 143.80M235.67 142.32L238.63 145.28M237.15 141.70L237.15 145.90M238.63 142.32L235.67 145.28" stroke="#000000" stroke-width="0.6" fill="none"/>
<path d="M245.40 136.47L249.60 136.47M246.02 134.99L248.98 137.96M247.50 134.37L247.50 138.57M248.98 134.99L246.02 137.96" stroke="#000000" stroke-width="0.6" fill="none"/>
<path d="M255.75 146.09L259.95 146.09M256.37 144.61L259.33 147.57M257.85 143.99L257.85 148.19M259.33 144.61L256.37 147.57" stroke="#000000" stroke-width="0.6" fill="none"/>
<path d="M266.10 140.14L270.30 140.14M266.72 138.65L269.68 141.62M268.20 138.04L268.20 142.24M269.68 138.65L266.72 141.62" stroke="#000000" stroke-width="0.6" fill="none"/>
<path d="M276.45 104.31L280.65 104.31M277.07 102.83L280.03 105.79M278.55 102.21L278.55 106.41M280.03 102.83L277.07 105.79" stroke="#000000" stroke-width="0.6" fill="none"/>
<path d="M286.80 104.31L291.00 104.31M287.42 102.83L290.38 105.79M288.90 102.21L288.90 106.41M290.38 102.83L287.42 105.79" stroke="#000000" stroke-width="0.6" fill="none"/>
<path d="M297.15 104.31L301.35 104.31M297.77 102.83L300.73 105.79M299.25 102.21L299.25 106.41M300.73 102.83L297.77 105.79" stroke="#000000" stroke-width="0.6" fill="none"/>
<path d="M307.50 104.31L311.70 104.31M308.12 102.83L311.08 105.79M309.60 102.21L309.60 106.41M311.08 102.83L308.12 105.79" stroke="#000000" stroke-width="0.6" fill="none"/>
<path d="M317.85 104.31L322.05 104.31M318.47 102.83L321.43 105.79M319.95 102.21L319.95 106.41M321.43 102.83L318.47 105.79" stroke="#000000" stroke-width="0.6" fill="none"/>
<path d="M328.20 104.31L332.40 104.31M328.82 102.83L331.78 105.79M330.30 102.21L330.30 106.41M331.78 102.83L328.82 105.79" stroke="#000000" stroke-width="0.6" fill="none"/>
<path d="M338.55 130.06L342.75 130.06M339.17 128.58L342.13 131.54M340.65 127.96L340.65 132.16M342.13 128.58L339.17 131.54" stroke="#000000" stroke-width="0.6" fill="none"/>
<path d="M348.90 137.85L353.10 137.85M349.52 136.36L352.48 139.33M351.00 135.75L351.00 139.95M352.48 136.36L349.52 139.33" stroke="#000000" stroke-width="0.6" fill="none"/>
<path d="M359.25 126.85L363.45 126.85M359.87 125.37L362.83 128.34M361.35 124.75L361.35 128.95M362.83 125.37L359.87 128.34" stroke="#000000" stroke-width="0.6" fill="none"/>
<path d="M369.60 133.72L373.80 133.72M370.22 132.24L373.18 135.21M371.70 131.62L371.70 135.82M373.18 132.24L370.22 135.21" stroke="#000000" stroke-width="0.6" fill="none"/>
<path d="M379.95 141.51L384.15 141.51M380.57 140.03L383.53 142.99M382.05 139.41L382.05 143.61M383.53 140.03L380.57 142.99" stroke="#000000" stroke-width="0.6" fill="none"/>
<path d="M390.30 144.72L394.50 144.72M390.92 143.23L393.88 146.20M392.40 142.62L392.40 146.82M393.88 143.23L390.92 146.20" stroke="#000000" stroke-width="0.6" fill="none"/>
<path d="M400.65 142.43L404.85 142.43M401.27 140.94L404.23 143.91M402.75 140.33L402.75 144.53M404.23 140.94L401.27 143.91" stroke="#000000" stroke-width="0.6" fill="none"/>
<path d="M411.00 141.51L415.20 141.51M411.62 140.03L414.58 142.99M413.10 139.41L413.10 143.61M414.58 140.03L411.62 142.99" stroke="#000000" stroke-width="0.6" fill="none"/>
<path d="M421.35 143.80L425.55 143.80M421.97 142.32L424.93 145.28M423.45 141.70L423.45 145.90M424.93 142.32L421.97 145.28" stroke="#000000" stroke-width="0.6" fill="none"/>
<path d="M431.70 134.64L435.90 134.64M432.32 133.16L435.28 136.12M433.80 132.54L433.80 136.74M435.28 133.16L432.32 136.12" stroke="#000000" stroke-width="0.6" fill="none"/>
<path d="M442.05 136.47L446.25 136.47M442.67 134.99L445.63 137.96M444.15 134.37L444.15 138.57M445.63 134.99L442.67 137.96" stroke="#000000" stroke-width="0.6" fill="none"/>
<path d="M452.40 135.56L456.60 135.56M453.02 134.07L455.98 137.04M454.50 133.46L454.50 137.66M455.98 134.07L453.02 137.04" stroke="#000000" stroke-width="0.6" fill="none"/>
<path d="M462.75 141.05L466.95 141.05M463.37 139.57L466.33 142.54M464.85 138.95L464.85 143.15M466.33 139.57L463.37 142.54" stroke="#000000" stroke-width="0.6" fill="none"/>
<path d="M473.10 141.51L477.30 141.51M473.72 140.03L476.68 142.99M475.20 139.41L475.20 143.61M476.68 140.03L473.72 142.99" stroke="#000000" stroke-width="0.6" fill="none"/>
<path d="M483.45 128.69L487.65 128.69M484.07 127.20L487.03 130.17M485.55 126.59L485.55 130.79M487.03 127.20L484.07 130.17" stroke="#000000" stroke-width="0.6" fill="none"/>
<path d="M493.80 146.09L498.00 146.09M494.42 144.61L497.38 147.57M495.90 143.99L495.90 148.19M497.38 144.61L494.42 147.57" stroke="#000000" stroke-width="0.6" fill="none"/>
<path d="M504.15 145.17L508.35 145.17M504.77 143.69L507.73 146.66M506.25 143.07L506.25 147.27M507.73 143.69L504.77 146.66" stroke="#000000" stroke-width="0.6" fill="none"/>
<path d="M514.50 146.09L518.70 146.09M515.12 144.61L518.08 147.57M516.60 143.99L516.60 148.19M518.08 144.61L515.12 147.57" stroke="#000000" stroke-width="0.6" fill="none"/>
<path d="M524.85 146.55L529.05 146.55M525.47 145.06L528.43 148.03M526.95 144.45L526.95 148.65M528.43 145.06L525.47 148.03" stroke="#000000" stroke-width="0.6" fill="none"/>
<path d="M535.20 131.43L539.40 131.43M535.82 129.95L538.78 132.92M537.30 129.33L537.30 133.53M538.78 129.95L535.82 132.92" stroke="#000000" stroke-width="0.6" fill="none"/>
<path d="M30.15 115.86L40.50 130.06L50.85 127.77M81.90 140.14L92.25 138.30L102.60 139.68M175.05 146.09L185.40 144.72L195.75 143.80L206.10 143.80L216.45 143.34L226.80 142.88L237.15 147.01L247.50 141.51L257.85 104.31L268.20 104.31L278.55 104.31M361.35 130.06L371.70 141.97L382.05 142.88L392.40 144.72L402.75 136.01L413.10 136.01L423.45 146.09L433.80 141.51L444.15 144.26L454.50 141.97M464.85 142.88L475.20 145.17L485.55 141.97M495.90 147.01L506.25 141.51L516.60 146.09M526.95 146.09L537.30 132.35" stroke="#ff0000" stroke-width="0.62" fill="none" stroke-linejoin="round"/>
<circle cx="30.15" cy="115.86" r="1.95" stroke="#ff0000" stroke-width="0.6" fill="none"/>
<circle cx="40.50" cy="130.06" r="1.95" stroke="#ff0000" stroke-width="0.6" fill="none"/>
<circle cx="50.85" cy="127.77" r="1.95" stroke="#ff0000" stroke-width="0.6" fill="none"/>
<circle cx="61.20" cy="128.69" r="1.95" stroke="#ff0000" stroke-width="0.6" fill="none"/>
<circle cx="71.55" cy="134.18" r="1.95" stroke="#ff0000" stroke-width="0.6" fill="none"/>
<circle cx="81.90" cy="140.14" r="1.95" stroke="#ff0000" stroke-width="0.6" fill="none"/>
<circle cx="92.25" cy="138.30" r="1.95" stroke="#ff0000" stroke-width="0.6" fill="none"/>
<circle cx="102.60" cy="139.68" r="1.95" stroke="#ff0000" stroke-width="0.6" fill="none"/>
<circle cx="112.95" cy="145.63" r="1.95" stroke="#ff0000" stroke-width="0.6" fill="none"/>
<circle cx="123.30" cy="146.55" r="1.95" stroke="#ff0000" stroke-width="0.6" fill="none"/>
<circle cx="133.65" cy="145.17" r="1.95" stroke="#ff0000" stroke-width="0.6" fill="none"/>
<circle cx="144.00" cy="146.09" r="1.95" stroke="#ff0000" stroke-width="0.6" fill="none"/>
<circle cx="154.35" cy="139.68" r="1.95" stroke="#ff0000" stroke-width="0.6" fill="none"/>
<circle cx="164.70" cy="141.97" r="1.95" stroke="#ff0000" stroke-width="0.6" fill="none"/>
<circle cx="175.05" cy="146.09" r="1.95" stroke="#ff0000" stroke-width="0.6" fill="none"/>
<circle cx="185.40" cy="144.72" r="1.95" stroke="#ff0000" stroke-width="0.6" fill="none"/>
<circle cx="195.75" cy="143.80" r="1.95" stroke="#ff0000" stroke-width="0.6" fill="none"/>
<circle cx="206.10" cy="143.80" r="1.95" stroke="#ff0000" stroke-width="0.6" fill="none"/>
<circle cx="216.45" cy="143.34" r="1.95" stroke="#ff0000" stroke-width="0.6" fill="none"/>
<circle cx="226.80" cy="142.88" r="1.95" stroke="#ff0000" stroke-width="0.6" fill="none"/>
<circle cx="237.15" cy="147.01" r="1.95" stroke="#ff0000" stroke-width="0.6" fill="none"/>
<circle cx="247.50" cy="141.51" r="1.95" stroke="#ff0000" stroke-width="0.6" fill="none"/>
<circle cx="257.85" cy="104.31" r="1.95" stroke="#ff0000" stroke-width="0.6" fill="none"/>
<circle cx="268.20" cy="104.31" r="1.95" stroke="#ff0000" stroke-width="0.6" fill="none"/>
<circle cx="278.55" cy="104.31" r="1.95" stroke="#ff0000" stroke-width="0.6" fill="none"/>
<circle cx="288.90" cy="104.31" r="1.95" stroke="#ff0000" stroke-width="0.6" fill="none"/>
<circle cx="299.25" cy="104.31" r="1.95" stroke="#ff0000" stroke-width="0.6" fill="none"/>
<circle cx="309.60" cy="104.31" r="1.95" stroke="#ff0000" stroke-width="0.6" fill="none"/>
<circle cx="319.95" cy="104.31" r="1.95" stroke="#ff0000" stroke-width="0.6" fill="none"/>
<circle cx="330.30" cy="104.31" r="1.95" stroke="#ff0000" stroke-width="0.6" fill="none"/>
<circle cx="340.65" cy="130.06" r="1.95" stroke="#ff0000" stroke-width="0.6" fill="none"/>
<circle cx="351.00" cy="142.88" r="1.95" stroke="#ff0000" stroke-width="0.6" fill="none"/>
<circle cx="361.35" cy="130.06" r="1.95" stroke="#ff0000" stroke-width="0.6" fill="none"/>
<circle cx="371.70" cy="141.97" r="1.95" stroke="#ff0000" stroke-width="0.6" fill="none"/>
<circle cx="382.05" cy="142.88" r="1.95" stroke="#ff0000" stroke-width="0.6" fill="none"/>
<circle cx="392.40" cy="144.72" r="1.95" stroke="#ff0000" stroke-width="0.6" fill="none"/>
<circle cx="402.75" cy="136.01" r="1.95" stroke="#ff0000" stroke-width="0.6" fill="none"/>
<circle cx="413.10" cy="136.01" r="1.95" stroke="#ff0000" stroke-width="0.6" fill="none"/>
<circle cx="423.45" cy="146.09" r="1.95" stroke="#ff0000" stroke-width="0.6" fill="none"/>
<circle cx="433.80" cy="141.51" r="1.95" stroke="#ff0000" stroke-width="0.6" fill="none"/>
<circle cx="444.15" cy="144.26" r="1.95" stroke="#ff0000" stroke-width="0.6" fill="none"/>
<circle cx="454.50" cy="141.97" r="1.95" stroke="#ff0000" stroke-width="0.6" fill="none"/>
<circle cx="464.85" cy="142.88" r="1.95" stroke="#ff0000" stroke-width="0.6" fill="none"/>
<circle cx="475.20" cy="145.17" r="1.95" stroke="#ff0000" stroke-width="0.6" fill="none"/>
<circle cx="485.55" cy="141.97" r="1.95" stroke="#ff0000" stroke-width="0.6" fill="none"/>
<circle cx="495.90" cy="147.01" r="1.95" stroke="#ff0000" stroke-width="0.6" fill="none"/>
<circle cx="506.25" cy="141.51" r="1.95" stroke="#ff0000" stroke-width="0.6" fill="none"/>
<circle cx="516.60" cy="146.09" r="1.95" stroke="#ff0000" stroke-width="0.6" fill="none"/>
<circle cx="526.95" cy="146.09" r="1.95" stroke="#ff0000" stroke-width="0.6" fill="none"/>
<circle cx="537.30" cy="132.35" r="1.95" stroke="#ff0000" stroke-width="0.6" fill="none"/>
<path d="M30.15 117.24L40.50 131.89L50.85 127.31L61.20 128.69L71.55 134.18L81.90 139.68L92.25 136.93L102.60 139.22L112.95 145.17L123.30 146.55L133.65 145.63L144.00 146.09L154.35 140.14L164.70 142.43L175.05 146.55L185.40 146.55L195.75 145.17L206.10 144.26L216.45 144.72L226.80 143.80L237.15 147.01L247.50 142.43L257.85 146.09L268.20 140.14L278.55 104.31L288.90 104.31L299.25 104.31L309.60 104.31L319.95 104.31L330.30 104.31L340.65 130.06L351.00 142.88L361.35 130.06L371.70 141.05L382.05 144.72L392.40 144.72L402.75 136.93L413.10 136.93L423.45 147.01L433.80 143.34L444.15 145.17L454.50 142.43L464.85 143.34L475.20 147.92L485.55 142.43L495.90 147.46L506.25 140.59L516.60 146.09L526.95 146.55L537.30 133.27" stroke="#0000ff" stroke-width="0.72" fill="none" stroke-linejoin="round"/>
<path d="M27.55 115.64L32.75 115.64L30.15 120.14Z" stroke="#0000ff" stroke-width="0.6" fill="none"/>
<path d="M37.90 130.29L43.10 130.29L40.50 134.79Z" stroke="#0000ff" stroke-width="0.6" fill="none"/>
<path d="M48.25 125.71L53.45 125.71L50.85 130.21Z" stroke="#0000ff" stroke-width="0.6" fill="none"/>
<path d="M58.60 127.09L63.80 127.09L61.20 131.59Z" stroke="#0000ff" stroke-width="0.6" fill="none"/>
<path d="M68.95 132.58L74.15 132.58L71.55 137.08Z" stroke="#0000ff" stroke-width="0.6" fill="none"/>
<path d="M79.30 138.08L84.50 138.08L81.90 142.58Z" stroke="#0000ff" stroke-width="0.6" fill="none"/>
<path d="M89.65 135.33L94.85 135.33L92.25 139.83Z" stroke="#0000ff" stroke-width="0.6" fill="none"/>
<path d="M100.00 137.62L105.20 137.62L102.60 142.12Z" stroke="#0000ff" stroke-width="0.6" fill="none"/>
<path d="M110.35 143.57L115.55 143.57L112.95 148.07Z" stroke="#0000ff" stroke-width="0.6" fill="none"/>
<path d="M120.70 144.95L125.90 144.95L123.30 149.45Z" stroke="#0000ff" stroke-width="0.6" fill="none"/>
<path d="M131.05 144.03L136.25 144.03L133.65 148.53Z" stroke="#0000ff" stroke-width="0.6" fill="none"/>
<path d="M141.40 144.49L146.60 144.49L144.00 148.99Z" stroke="#0000ff" stroke-width="0.6" fill="none"/>
<path d="M151.75 138.54L156.95 138.54L154.35 143.04Z" stroke="#0000ff" stroke-width="0.6" fill="none"/>
<path d="M162.10 140.83L167.30 140.83L164.70 145.33Z" stroke="#0000ff" stroke-width="0.6" fill="none"/>
<path d="M172.45 144.95L177.65 144.95L175.05 149.45Z" stroke="#0000ff" stroke-width="0.6" fill="none"/>
<path d="M182.80 144.95L188.00 144.95L185.40 149.45Z" stroke="#0000ff" stroke-width="0.6" fill="none"/>
<path d="M193.15 143.57L198.35 143.57L195.75 148.07Z" stroke="#0000ff" stroke-width="0.6" fill="none"/>
<path d="M203.50 142.66L208.70 142.66L206.10 147.16Z" stroke="#0000ff" stroke-width="0.6" fill="none"/>
<path d="M213.85 143.12L219.05 143.12L216.45 147.62Z" stroke="#0000ff" stroke-width="0.6" fill="none"/>
<path d="M224.20 142.20L229.40 142.20L226.80 146.70Z" stroke="#0000ff" stroke-width="0.6" fill="none"/>
<path d="M234.55 145.41L239.75 145.41L237.15 149.91Z" stroke="#0000ff" stroke-width="0.6" fill="none"/>
<path d="M244.90 140.83L250.10 140.83L247.50 145.33Z" stroke="#0000ff" stroke-width="0.6" fill="none"/>
<path d="M255.25 144.49L260.45 144.49L257.85 148.99Z" stroke="#0000ff" stroke-width="0.6" fill="none"/>
<path d="M265.60 138.54L270.80 138.54L268.20 143.04Z" stroke="#0000ff" stroke-width="0.6" fill="none"/>
<path d="M275.95 102.71L281.15 102.71L278.55 107.21Z" stroke="#0000ff" stroke-width="0.6" fill="none"/>
<path d="M286.30 102.71L291.50 102.71L288.90 107.21Z" stroke="#0000ff" stroke-width="0.6" fill="none"/>
<path d="M296.65 102.71L301.85 102.71L299.25 107.21Z" stroke="#0000ff" stroke-width="0.6" fill="none"/>
<path d="M307.00 102.71L312.20 102.71L309.60 107.21Z" stroke="#0000ff" stroke-width="0.6" fill="none"/>
<path d="M317.35 102.71L322.55 102.71L319.95 107.21Z" stroke="#0000ff" stroke-width="0.6" fill="none"/>
<path d="M327.70 102.71L332.90 102.71L330.30 107.21Z" stroke="#0000ff" stroke-width="0.6" fill="none"/>
<path d="M338.05 128.46L343.25 128.46L340.65 132.96Z" stroke="#0000ff" stroke-width="0.6" fill="none"/>
<path d="M348.40 141.28L353.60 141.28L351.00 145.78Z" stroke="#0000ff" stroke-width="0.6" fill="none"/>
<path d="M358.75 128.46L363.95 128.46L361.35 132.96Z" stroke="#0000ff" stroke-width="0.6" fill="none"/>
<path d="M369.10 139.45L374.30 139.45L371.70 143.95Z" stroke="#0000ff" stroke-width="0.6" fill="none"/>
<path d="M379.45 143.12L384.65 143.12L382.05 147.62Z" stroke="#0000ff" stroke-width="0.6" fill="none"/>
<path d="M389.80 143.12L395.00 143.12L392.40 147.62Z" stroke="#0000ff" stroke-width="0.6" fill="none"/>
<path d="M400.15 135.33L405.35 135.33L402.75 139.83Z" stroke="#0000ff" stroke-width="0.6" fill="none"/>
<path d="M410.50 135.33L415.70 135.33L413.10 139.83Z" stroke="#0000ff" stroke-width="0.6" fill="none"/>
<path d="M420.85 145.41L426.05 145.41L423.45 149.91Z" stroke="#0000ff" stroke-width="0.6" fill="none"/>
<path d="M431.20 141.74L436.40 141.74L433.80 146.24Z" stroke="#0000ff" stroke-width="0.6" fill="none"/>
<path d="M441.55 143.57L446.75 143.57L444.15 148.07Z" stroke="#0000ff" stroke-width="0.6" fill="none"/>
<path d="M451.90 140.83L457.10 140.83L454.50 145.33Z" stroke="#0000ff" stroke-width="0.6" fill="none"/>
<path d="M462.25 141.74L467.45 141.74L464.85 146.24Z" stroke="#0000ff" stroke-width="0.6" fill="none"/>
<path d="M472.60 146.32L477.80 146.32L475.20 150.82Z" stroke="#0000ff" stroke-width="0.6" fill="none"/>
<path d="M482.95 140.83L488.15 140.83L485.55 145.33Z" stroke="#0000ff" stroke-width="0.6" fill="none"/>
<path d="M493.30 145.86L498.50 145.86L495.90 150.36Z" stroke="#0000ff" stroke-width="0.6" fill="none"/>
<path d="M503.65 138.99L508.85 138.99L506.25 143.49Z" stroke="#0000ff" stroke-width="0.6" fill="none"/>
<path d="M514.00 144.49L519.20 144.49L516.60 148.99Z" stroke="#0000ff" stroke-width="0.6" fill="none"/>
<path d="M524.35 144.95L529.55 144.95L526.95 149.45Z" stroke="#0000ff" stroke-width="0.6" fill="none"/>
<path d="M534.70 131.67L539.90 131.67L537.30 136.17Z" stroke="#0000ff" stroke-width="0.6" fill="none"/>
<path d="M71.55 187.31V233.27M123.30 187.31V233.27M175.05 187.31V233.27M226.80 187.31V233.27M278.55 187.31V233.27M330.30 187.31V233.27M382.05 187.31V233.27M433.80 187.31V233.27M485.55 187.31V233.27M30.15 210.29H537.30" stroke="#dedede" stroke-width="0.7" fill="none"/>
<rect x="30.15" y="187.31" width="507.15" height="45.96" fill="none" stroke="#2e2e2e" stroke-width="0.7"/>
<path d="M71.55 233.27v-4.8M71.55 187.31v4.8M123.30 233.27v-4.8M123.30 187.31v4.8M175.05 233.27v-4.8M175.05 187.31v4.8M226.80 233.27v-4.8M226.80 187.31v4.8M278.55 233.27v-4.8M278.55 187.31v4.8M330.30 233.27v-4.8M330.30 187.31v4.8M382.05 233.27v-4.8M382.05 187.31v4.8M433.80 233.27v-4.8M433.80 187.31v4.8M485.55 233.27v-4.8M485.55 187.31v4.8M30.15 210.29h4.8M537.30 210.29h-4.8" stroke="#2e2e2e" stroke-width="0.7" fill="none"/>
<text x="71.55" y="243.67" font-size="7.1" fill="#262626" text-anchor="middle">5</text>
<text x="123.30" y="243.67" font-size="7.1" fill="#262626" text-anchor="middle">10</text>
<text x="175.05" y="243.67" font-size="7.1" fill="#262626" text-anchor="middle">15</text>
<text x="226.80" y="243.67" font-size="7.1" fill="#262626" text-anchor="middle">20</text>
<text x="278.55" y="243.67" font-size="7.1" fill="#262626" text-anchor="middle">25</text>
<text x="330.30" y="243.67" font-size="7.1" fill="#262626" text-anchor="middle">30</text>
<text x="382.05" y="243.67" font-size="7.1" fill="#262626" text-anchor="middle">35</text>
<text x="433.80" y="243.67" font-size="7.1" fill="#262626" text-anchor="middle">40</text>
<text x="485.55" y="243.67" font-size="7.1" fill="#262626" text-anchor="middle">45</text>
<text x="537.30" y="243.67" font-size="7.1" fill="#262626" text-anchor="middle">50</text>
<text x="27.35" y="236.77" font-size="7.1" fill="#262626" text-anchor="end">0</text>
<text x="27.35" y="213.79" font-size="7.1" fill="#262626" text-anchor="end">5</text>
<text x="27.35" y="190.81" font-size="7.1" fill="#262626" text-anchor="end">10</text>
<text x="284.32" y="253.97" font-size="7.9" fill="#262626" stroke="#262626" stroke-width="0.15" text-anchor="middle">Time</text>
<text transform="translate(15.8 210.49) rotate(-90)" font-size="7.9" fill="#262626" stroke="#262626" stroke-width="0.15" text-anchor="middle">OSPA Dist</text>
<text x="284.22" y="180.31" font-size="8.1" fill="#1a1a1a" stroke="#1a1a1a" stroke-width="0.18" text-anchor="middle">S<tspan font-size="6.48" dy="3.6">bs</tspan><tspan dy="-3.6">=3</tspan></text>
<path d="M30.15 187.31L40.50 210.77L50.85 208.02L61.20 209.40L71.55 212.14L81.90 218.56L92.25 215.81L102.60 214.43L112.95 222.68L123.30 225.88L133.65 227.72L144.00 228.63L154.35 226.34L164.70 223.14L175.05 228.63L185.40 228.63L195.75 228.63L206.10 225.88L216.45 219.93L226.80 221.30L237.15 227.72L247.50 219.47L257.85 229.09M330.30 187.31L340.65 213.52L351.00 220.85L361.35 208.94L371.70 216.27L382.05 224.51L392.40 227.26L402.75 224.51L413.10 224.51L423.45 228.17L433.80 220.39L444.15 221.76L454.50 220.85L464.85 225.88L475.20 227.26L485.55 213.98L495.90 228.17L506.25 229.55L516.60 227.72L526.95 227.72L537.30 215.35" stroke="#000000" stroke-width="0.55" fill="none" stroke-linejoin="round"/>
<path d="M28.05 187.31L32.25 187.31M28.67 185.83L31.63 188.79M30.15 185.21L30.15 189.41M31.63 185.83L28.67 188.79" stroke="#000000" stroke-width="0.6" fill="none"/>
<path d="M38.40 210.77L42.60 210.77M39.02 209.29L41.98 212.25M40.50 208.67L40.50 212.87M41.98 209.29L39.02 212.25" stroke="#000000" stroke-width="0.6" fill="none"/>
<path d="M48.75 208.02L52.95 208.02M49.37 206.54L52.33 209.51M50.85 205.92L50.85 210.12M52.33 206.54L49.37 209.51" stroke="#000000" stroke-width="0.6" fill="none"/>
<path d="M59.10 209.40L63.30 209.40M59.72 207.91L62.68 210.88M61.20 207.30L61.20 211.50M62.68 207.91L59.72 210.88" stroke="#000000" stroke-width="0.6" fill="none"/>
<path d="M69.45 212.14L73.65 212.14M70.07 210.66L73.03 213.63M71.55 210.04L71.55 214.24M73.03 210.66L70.07 213.63" stroke="#000000" stroke-width="0.6" fill="none"/>
<path d="M79.80 218.56L84.00 218.56M80.42 217.07L83.38 220.04M81.90 216.46L81.90 220.66M83.38 217.07L80.42 220.04" stroke="#000000" stroke-width="0.6" fill="none"/>
<path d="M90.15 215.81L94.35 215.81M90.77 214.32L93.73 217.29M92.25 213.71L92.25 217.91M93.73 214.32L90.77 217.29" stroke="#000000" stroke-width="0.6" fill="none"/>
<path d="M100.50 214.43L104.70 214.43M101.12 212.95L104.08 215.92M102.60 212.33L102.60 216.53M104.08 212.95L101.12 215.92" stroke="#000000" stroke-width="0.6" fill="none"/>
<path d="M110.85 222.68L115.05 222.68M111.47 221.19L114.43 224.16M112.95 220.58L112.95 224.78M114.43 221.19L111.47 224.16" stroke="#000000" stroke-width="0.6" fill="none"/>
<path d="M121.20 225.88L125.40 225.88M121.82 224.40L124.78 227.37M123.30 223.78L123.30 227.98M124.78 224.40L121.82 227.37" stroke="#000000" stroke-width="0.6" fill="none"/>
<path d="M131.55 227.72L135.75 227.72M132.17 226.23L135.13 229.20M133.65 225.62L133.65 229.82M135.13 226.23L132.17 229.20" stroke="#000000" stroke-width="0.6" fill="none"/>
<path d="M141.90 228.63L146.10 228.63M142.52 227.15L145.48 230.12M144.00 226.53L144.00 230.73M145.48 227.15L142.52 230.12" stroke="#000000" stroke-width="0.6" fill="none"/>
<path d="M152.25 226.34L156.45 226.34M152.87 224.86L155.83 227.83M154.35 224.24L154.35 228.44M155.83 224.86L152.87 227.83" stroke="#000000" stroke-width="0.6" fill="none"/>
<path d="M162.60 223.14L166.80 223.14M163.22 221.65L166.18 224.62M164.70 221.04L164.70 225.24M166.18 221.65L163.22 224.62" stroke="#000000" stroke-width="0.6" fill="none"/>
<path d="M172.95 228.63L177.15 228.63M173.57 227.15L176.53 230.12M175.05 226.53L175.05 230.73M176.53 227.15L173.57 230.12" stroke="#000000" stroke-width="0.6" fill="none"/>
<path d="M183.30 228.63L187.50 228.63M183.92 227.15L186.88 230.12M185.40 226.53L185.40 230.73M186.88 227.15L183.92 230.12" stroke="#000000" stroke-width="0.6" fill="none"/>
<path d="M193.65 228.63L197.85 228.63M194.27 227.15L197.23 230.12M195.75 226.53L195.75 230.73M197.23 227.15L194.27 230.12" stroke="#000000" stroke-width="0.6" fill="none"/>
<path d="M204.00 225.88L208.20 225.88M204.62 224.40L207.58 227.37M206.10 223.78L206.10 227.98M207.58 224.40L204.62 227.37" stroke="#000000" stroke-width="0.6" fill="none"/>
<path d="M214.35 219.93L218.55 219.93M214.97 218.45L217.93 221.41M216.45 217.83L216.45 222.03M217.93 218.45L214.97 221.41" stroke="#000000" stroke-width="0.6" fill="none"/>
<path d="M224.70 221.30L228.90 221.30M225.32 219.82L228.28 222.79M226.80 219.20L226.80 223.40M228.28 219.82L225.32 222.79" stroke="#000000" stroke-width="0.6" fill="none"/>
<path d="M235.05 227.72L239.25 227.72M235.67 226.23L238.63 229.20M237.15 225.62L237.15 229.82M238.63 226.23L235.67 229.20" stroke="#000000" stroke-width="0.6" fill="none"/>
<path d="M245.40 219.47L249.60 219.47M246.02 217.99L248.98 220.96M247.50 217.37L247.50 221.57M248.98 217.99L246.02 220.96" stroke="#000000" stroke-width="0.6" fill="none"/>
<path d="M255.75 229.09L259.95 229.09M256.37 227.61L259.33 230.57M257.85 226.99L257.85 231.19M259.33 227.61L256.37 230.57" stroke="#000000" stroke-width="0.6" fill="none"/>
<path d="M266.10 223.14L270.30 223.14M266.72 221.65L269.68 224.62M268.20 221.04L268.20 225.24M269.68 221.65L266.72 224.62" stroke="#000000" stroke-width="0.6" fill="none"/>
<path d="M276.45 187.31L280.65 187.31M277.07 185.83L280.03 188.79M278.55 185.21L278.55 189.41M280.03 185.83L277.07 188.79" stroke="#000000" stroke-width="0.6" fill="none"/>
<path d="M286.80 187.31L291.00 187.31M287.42 185.83L290.38 188.79M288.90 185.21L288.90 189.41M290.38 185.83L287.42 188.79" stroke="#000000" stroke-width="0.6" fill="none"/>
<path d="M297.15 187.31L301.35 187.31M297.77 185.83L300.73 188.79M299.25 185.21L299.25 189.41M300.73 185.83L297.77 188.79" stroke="#000000" stroke-width="0.6" fill="none"/>
<path d="M307.50 187.31L311.70 187.31M308.12 185.83L311.08 188.79M309.60 185.21L309.60 189.41M311.08 185.83L308.12 188.79" stroke="#000000" stroke-width="0.6" fill="none"/>
<path d="M317.85 187.31L322.05 187.31M318.47 185.83L321.43 188.79M319.95 185.21L319.95 189.41M321.43 185.83L318.47 188.79" stroke="#000000" stroke-width="0.6" fill="none"/>
<path d="M328.20 187.31L332.40 187.31M328.82 185.83L331.78 188.79M330.30 185.21L330.30 189.41M331.78 185.83L328.82 188.79" stroke="#000000" stroke-width="0.6" fill="none"/>
<path d="M338.55 213.52L342.75 213.52M339.17 212.03L342.13 215.00M340.65 211.42L340.65 215.62M342.13 212.03L339.17 215.00" stroke="#000000" stroke-width="0.6" fill="none"/>
<path d="M348.90 220.85L353.10 220.85M349.52 219.36L352.48 222.33M351.00 218.75L351.00 222.95M352.48 219.36L349.52 222.33" stroke="#000000" stroke-width="0.6" fill="none"/>
<path d="M359.25 208.94L363.45 208.94M359.87 207.45L362.83 210.42M361.35 206.84L361.35 211.04M362.83 207.45L359.87 210.42" stroke="#000000" stroke-width="0.6" fill="none"/>
<path d="M369.60 216.27L373.80 216.27M370.22 214.78L373.18 217.75M371.70 214.17L371.70 218.37M373.18 214.78L370.22 217.75" stroke="#000000" stroke-width="0.6" fill="none"/>
<path d="M379.95 224.51L384.15 224.51M380.57 223.03L383.53 225.99M382.05 222.41L382.05 226.61M383.53 223.03L380.57 225.99" stroke="#000000" stroke-width="0.6" fill="none"/>
<path d="M390.30 227.26L394.50 227.26M390.92 225.77L393.88 228.74M392.40 225.16L392.40 229.36M393.88 225.77L390.92 228.74" stroke="#000000" stroke-width="0.6" fill="none"/>
<path d="M400.65 224.51L404.85 224.51M401.27 223.03L404.23 225.99M402.75 222.41L402.75 226.61M404.23 223.03L401.27 225.99" stroke="#000000" stroke-width="0.6" fill="none"/>
<path d="M411.00 224.51L415.20 224.51M411.62 223.03L414.58 225.99M413.10 222.41L413.10 226.61M414.58 223.03L411.62 225.99" stroke="#000000" stroke-width="0.6" fill="none"/>
<path d="M421.35 228.17L425.55 228.17M421.97 226.69L424.93 229.66M423.45 226.07L423.45 230.27M424.93 226.69L421.97 229.66" stroke="#000000" stroke-width="0.6" fill="none"/>
<path d="M431.70 220.39L435.90 220.39M432.32 218.90L435.28 221.87M433.80 218.29L433.80 222.49M435.28 218.90L432.32 221.87" stroke="#000000" stroke-width="0.6" fill="none"/>
<path d="M442.05 221.76L446.25 221.76M442.67 220.28L445.63 223.25M444.15 219.66L444.15 223.86M445.63 220.28L442.67 223.25" stroke="#000000" stroke-width="0.6" fill="none"/>
<path d="M452.40 220.85L456.60 220.85M453.02 219.36L455.98 222.33M454.50 218.75L454.50 222.95M455.98 219.36L453.02 222.33" stroke="#000000" stroke-width="0.6" fill="none"/>
<path d="M462.75 225.88L466.95 225.88M463.37 224.40L466.33 227.37M464.85 223.78L464.85 227.98M466.33 224.40L463.37 227.37" stroke="#000000" stroke-width="0.6" fill="none"/>
<path d="M473.10 227.26L477.30 227.26M473.72 225.77L476.68 228.74M475.20 225.16L475.20 229.36M476.68 225.77L473.72 228.74" stroke="#000000" stroke-width="0.6" fill="none"/>
<path d="M483.45 213.98L487.65 213.98M484.07 212.49L487.03 215.46M485.55 211.88L485.55 216.08M487.03 212.49L484.07 215.46" stroke="#000000" stroke-width="0.6" fill="none"/>
<path d="M493.80 228.17L498.00 228.17M494.42 226.69L497.38 229.66M495.90 226.07L495.90 230.27M497.38 226.69L494.42 229.66" stroke="#000000" stroke-width="0.6" fill="none"/>
<path d="M504.15 229.55L508.35 229.55M504.77 228.06L507.73 231.03M506.25 227.45L506.25 231.65M507.73 228.06L504.77 231.03" stroke="#000000" stroke-width="0.6" fill="none"/>
<path d="M514.50 227.72L518.70 227.72M515.12 226.23L518.08 229.20M516.60 225.62L516.60 229.82M518.08 226.23L515.12 229.20" stroke="#000000" stroke-width="0.6" fill="none"/>
<path d="M524.85 227.72L529.05 227.72M525.47 226.23L528.43 229.20M526.95 225.62L526.95 229.82M528.43 226.23L525.47 229.20" stroke="#000000" stroke-width="0.6" fill="none"/>
<path d="M535.20 215.35L539.40 215.35M535.82 213.87L538.78 216.83M537.30 213.25L537.30 217.45M538.78 213.87L535.82 216.83" stroke="#000000" stroke-width="0.6" fill="none"/>
<path d="M92.25 222.22L102.60 226.80L112.95 228.17M133.65 226.34L144.00 229.09L154.35 224.05M195.75 228.63L206.10 227.26L216.45 226.34L226.80 220.39L237.15 227.72L247.50 187.31L257.85 187.31L268.20 187.31L278.55 187.31M351.00 227.26L361.35 219.47L371.70 228.17M402.75 218.10L413.10 220.39L423.45 230.46L433.80 227.72L444.15 226.34M454.50 225.43L464.85 229.09L475.20 227.72L485.55 219.93L495.90 227.26L506.25 221.30L516.60 227.72L526.95 228.63L537.30 213.52" stroke="#ff0000" stroke-width="0.62" fill="none" stroke-linejoin="round"/>
<circle cx="30.15" cy="200.24" r="1.95" stroke="#ff0000" stroke-width="0.6" fill="none"/>
<circle cx="40.50" cy="215.35" r="1.95" stroke="#ff0000" stroke-width="0.6" fill="none"/>
<circle cx="50.85" cy="211.23" r="1.95" stroke="#ff0000" stroke-width="0.6" fill="none"/>
<circle cx="61.20" cy="215.81" r="1.95" stroke="#ff0000" stroke-width="0.6" fill="none"/>
<circle cx="71.55" cy="216.72" r="1.95" stroke="#ff0000" stroke-width="0.6" fill="none"/>
<circle cx="81.90" cy="228.17" r="1.95" stroke="#ff0000" stroke-width="0.6" fill="none"/>
<circle cx="92.25" cy="222.22" r="1.95" stroke="#ff0000" stroke-width="0.6" fill="none"/>
<circle cx="102.60" cy="226.80" r="1.95" stroke="#ff0000" stroke-width="0.6" fill="none"/>
<circle cx="112.95" cy="228.17" r="1.95" stroke="#ff0000" stroke-width="0.6" fill="none"/>
<circle cx="123.30" cy="229.55" r="1.95" stroke="#ff0000" stroke-width="0.6" fill="none"/>
<circle cx="133.65" cy="226.34" r="1.95" stroke="#ff0000" stroke-width="0.6" fill="none"/>
<circle cx="144.00" cy="229.09" r="1.95" stroke="#ff0000" stroke-width="0.6" fill="none"/>
<circle cx="154.35" cy="224.05" r="1.95" stroke="#ff0000" stroke-width="0.6" fill="none"/>
<circle cx="164.70" cy="225.88" r="1.95" stroke="#ff0000" stroke-width="0.6" fill="none"/>
<circle cx="175.05" cy="228.63" r="1.95" stroke="#ff0000" stroke-width="0.6" fill="none"/>
<circle cx="185.40" cy="226.80" r="1.95" stroke="#ff0000" stroke-width="0.6" fill="none"/>
<circle cx="195.75" cy="228.63" r="1.95" stroke="#ff0000" stroke-width="0.6" fill="none"/>
<circle cx="206.10" cy="227.26" r="1.95" stroke="#ff0000" stroke-width="0.6" fill="none"/>
<circle cx="216.45" cy="226.34" r="1.95" stroke="#ff0000" stroke-width="0.6" fill="none"/>
<circle cx="226.80" cy="220.39" r="1.95" stroke="#ff0000" stroke-width="0.6" fill="none"/>
<circle cx="237.15" cy="227.72" r="1.95" stroke="#ff0000" stroke-width="0.6" fill="none"/>
<circle cx="247.50" cy="187.31" r="1.95" stroke="#ff0000" stroke-width="0.6" fill="none"/>
<circle cx="257.85" cy="187.31" r="1.95" stroke="#ff0000" stroke-width="0.6" fill="none"/>
<circle cx="268.20" cy="187.31" r="1.95" stroke="#ff0000" stroke-width="0.6" fill="none"/>
<circle cx="278.55" cy="187.31" r="1.95" stroke="#ff0000" stroke-width="0.6" fill="none"/>
<circle cx="288.90" cy="187.31" r="1.95" stroke="#ff0000" stroke-width="0.6" fill="none"/>
<circle cx="299.25" cy="187.31" r="1.95" stroke="#ff0000" stroke-width="0.6" fill="none"/>
<circle cx="309.60" cy="187.31" r="1.95" stroke="#ff0000" stroke-width="0.6" fill="none"/>
<circle cx="319.95" cy="187.31" r="1.95" stroke="#ff0000" stroke-width="0.6" fill="none"/>
<circle cx="330.30" cy="187.31" r="1.95" stroke="#ff0000" stroke-width="0.6" fill="none"/>
<circle cx="340.65" cy="215.81" r="1.95" stroke="#ff0000" stroke-width="0.6" fill="none"/>
<circle cx="351.00" cy="227.26" r="1.95" stroke="#ff0000" stroke-width="0.6" fill="none"/>
<circle cx="361.35" cy="219.47" r="1.95" stroke="#ff0000" stroke-width="0.6" fill="none"/>
<circle cx="371.70" cy="228.17" r="1.95" stroke="#ff0000" stroke-width="0.6" fill="none"/>
<circle cx="382.05" cy="227.26" r="1.95" stroke="#ff0000" stroke-width="0.6" fill="none"/>
<circle cx="392.40" cy="227.26" r="1.95" stroke="#ff0000" stroke-width="0.6" fill="none"/>
<circle cx="402.75" cy="218.10" r="1.95" stroke="#ff0000" stroke-width="0.6" fill="none"/>
<circle cx="413.10" cy="220.39" r="1.95" stroke="#ff0000" stroke-width="0.6" fill="none"/>
<circle cx="423.45" cy="230.46" r="1.95" stroke="#ff0000" stroke-width="0.6" fill="none"/>
<circle cx="433.80" cy="227.72" r="1.95" stroke="#ff0000" stroke-width="0.6" fill="none"/>
<circle cx="444.15" cy="226.34" r="1.95" stroke="#ff0000" stroke-width="0.6" fill="none"/>
<circle cx="454.50" cy="225.43" r="1.95" stroke="#ff0000" stroke-width="0.6" fill="none"/>
<circle cx="464.85" cy="229.09" r="1.95" stroke="#ff0000" stroke-width="0.6" fill="none"/>
<circle cx="475.20" cy="227.72" r="1.95" stroke="#ff0000" stroke-width="0.6" fill="none"/>
<circle cx="485.55" cy="219.93" r="1.95" stroke="#ff0000" stroke-width="0.6" fill="none"/>
<circle cx="495.90" cy="227.26" r="1.95" stroke="#ff0000" stroke-width="0.6" fill="none"/>
<circle cx="506.25" cy="221.30" r="1.95" stroke="#ff0000" stroke-width="0.6" fill="none"/>
<circle cx="516.60" cy="227.72" r="1.95" stroke="#ff0000" stroke-width="0.6" fill="none"/>
<circle cx="526.95" cy="228.63" r="1.95" stroke="#ff0000" stroke-width="0.6" fill="none"/>
<circle cx="537.30" cy="213.52" r="1.95" stroke="#ff0000" stroke-width="0.6" fill="none"/>
<path d="M30.15 200.69L40.50 214.89L50.85 211.69L61.20 215.35L71.55 216.72L81.90 228.63L92.25 222.22L102.60 228.17L112.95 228.17L123.30 230.01L133.65 226.80L144.00 230.01L154.35 223.59L164.70 225.88L175.05 228.63L185.40 227.26L195.75 228.63L206.10 228.17L216.45 227.26L226.80 222.22L237.15 229.09L247.50 224.51L257.85 229.09L268.20 223.14L278.55 187.31L288.90 187.31L299.25 187.31L309.60 187.31L319.95 187.31L330.30 187.31L340.65 215.35L351.00 227.26L361.35 218.56L371.70 228.17L382.05 227.26L392.40 227.26L402.75 218.56L413.10 221.76L423.45 230.46L433.80 229.55L444.15 226.80L454.50 225.88L464.85 230.01L475.20 229.09L485.55 221.30L495.90 229.09L506.25 223.59L516.60 228.63L526.95 229.55L537.30 215.81" stroke="#0000ff" stroke-width="0.72" fill="none" stroke-linejoin="round"/>
<path d="M27.55 199.09L32.75 199.09L30.15 203.59Z" stroke="#0000ff" stroke-width="0.6" fill="none"/>
<path d="M37.90 213.29L43.10 213.29L40.50 217.79Z" stroke="#0000ff" stroke-width="0.6" fill="none"/>
<path d="M48.25 210.09L53.45 210.09L50.85 214.59Z" stroke="#0000ff" stroke-width="0.6" fill="none"/>
<path d="M58.60 213.75L63.80 213.75L61.20 218.25Z" stroke="#0000ff" stroke-width="0.6" fill="none"/>
<path d="M68.95 215.12L74.15 215.12L71.55 219.62Z" stroke="#0000ff" stroke-width="0.6" fill="none"/>
<path d="M79.30 227.03L84.50 227.03L81.90 231.53Z" stroke="#0000ff" stroke-width="0.6" fill="none"/>
<path d="M89.65 220.62L94.85 220.62L92.25 225.12Z" stroke="#0000ff" stroke-width="0.6" fill="none"/>
<path d="M100.00 226.57L105.20 226.57L102.60 231.07Z" stroke="#0000ff" stroke-width="0.6" fill="none"/>
<path d="M110.35 226.57L115.55 226.57L112.95 231.07Z" stroke="#0000ff" stroke-width="0.6" fill="none"/>
<path d="M120.70 228.41L125.90 228.41L123.30 232.91Z" stroke="#0000ff" stroke-width="0.6" fill="none"/>
<path d="M131.05 225.20L136.25 225.20L133.65 229.70Z" stroke="#0000ff" stroke-width="0.6" fill="none"/>
<path d="M141.40 228.41L146.60 228.41L144.00 232.91Z" stroke="#0000ff" stroke-width="0.6" fill="none"/>
<path d="M151.75 221.99L156.95 221.99L154.35 226.49Z" stroke="#0000ff" stroke-width="0.6" fill="none"/>
<path d="M162.10 224.28L167.30 224.28L164.70 228.78Z" stroke="#0000ff" stroke-width="0.6" fill="none"/>
<path d="M172.45 227.03L177.65 227.03L175.05 231.53Z" stroke="#0000ff" stroke-width="0.6" fill="none"/>
<path d="M182.80 225.66L188.00 225.66L185.40 230.16Z" stroke="#0000ff" stroke-width="0.6" fill="none"/>
<path d="M193.15 227.03L198.35 227.03L195.75 231.53Z" stroke="#0000ff" stroke-width="0.6" fill="none"/>
<path d="M203.50 226.57L208.70 226.57L206.10 231.07Z" stroke="#0000ff" stroke-width="0.6" fill="none"/>
<path d="M213.85 225.66L219.05 225.66L216.45 230.16Z" stroke="#0000ff" stroke-width="0.6" fill="none"/>
<path d="M224.20 220.62L229.40 220.62L226.80 225.12Z" stroke="#0000ff" stroke-width="0.6" fill="none"/>
<path d="M234.55 227.49L239.75 227.49L237.15 231.99Z" stroke="#0000ff" stroke-width="0.6" fill="none"/>
<path d="M244.90 222.91L250.10 222.91L247.50 227.41Z" stroke="#0000ff" stroke-width="0.6" fill="none"/>
<path d="M255.25 227.49L260.45 227.49L257.85 231.99Z" stroke="#0000ff" stroke-width="0.6" fill="none"/>
<path d="M265.60 221.54L270.80 221.54L268.20 226.04Z" stroke="#0000ff" stroke-width="0.6" fill="none"/>
<path d="M275.95 185.71L281.15 185.71L278.55 190.21Z" stroke="#0000ff" stroke-width="0.6" fill="none"/>
<path d="M286.30 185.71L291.50 185.71L288.90 190.21Z" stroke="#0000ff" stroke-width="0.6" fill="none"/>
<path d="M296.65 185.71L301.85 185.71L299.25 190.21Z" stroke="#0000ff" stroke-width="0.6" fill="none"/>
<path d="M307.00 185.71L312.20 185.71L309.60 190.21Z" stroke="#0000ff" stroke-width="0.6" fill="none"/>
<path d="M317.35 185.71L322.55 185.71L319.95 190.21Z" stroke="#0000ff" stroke-width="0.6" fill="none"/>
<path d="M327.70 185.71L332.90 185.71L330.30 190.21Z" stroke="#0000ff" stroke-width="0.6" fill="none"/>
<path d="M338.05 213.75L343.25 213.75L340.65 218.25Z" stroke="#0000ff" stroke-width="0.6" fill="none"/>
<path d="M348.40 225.66L353.60 225.66L351.00 230.16Z" stroke="#0000ff" stroke-width="0.6" fill="none"/>
<path d="M358.75 216.96L363.95 216.96L361.35 221.46Z" stroke="#0000ff" stroke-width="0.6" fill="none"/>
<path d="M369.10 226.57L374.30 226.57L371.70 231.07Z" stroke="#0000ff" stroke-width="0.6" fill="none"/>
<path d="M379.45 225.66L384.65 225.66L382.05 230.16Z" stroke="#0000ff" stroke-width="0.6" fill="none"/>
<path d="M389.80 225.66L395.00 225.66L392.40 230.16Z" stroke="#0000ff" stroke-width="0.6" fill="none"/>
<path d="M400.15 216.96L405.35 216.96L402.75 221.46Z" stroke="#0000ff" stroke-width="0.6" fill="none"/>
<path d="M410.50 220.16L415.70 220.16L413.10 224.66Z" stroke="#0000ff" stroke-width="0.6" fill="none"/>
<path d="M420.85 228.86L426.05 228.86L423.45 233.36Z" stroke="#0000ff" stroke-width="0.6" fill="none"/>
<path d="M431.20 227.95L436.40 227.95L433.80 232.45Z" stroke="#0000ff" stroke-width="0.6" fill="none"/>
<path d="M441.55 225.20L446.75 225.20L444.15 229.70Z" stroke="#0000ff" stroke-width="0.6" fill="none"/>
<path d="M451.90 224.28L457.10 224.28L454.50 228.78Z" stroke="#0000ff" stroke-width="0.6" fill="none"/>
<path d="M462.25 228.41L467.45 228.41L464.85 232.91Z" stroke="#0000ff" stroke-width="0.6" fill="none"/>
<path d="M472.60 227.49L477.80 227.49L475.20 231.99Z" stroke="#0000ff" stroke-width="0.6" fill="none"/>
<path d="M482.95 219.70L488.15 219.70L485.55 224.20Z" stroke="#0000ff" stroke-width="0.6" fill="none"/>
<path d="M493.30 227.49L498.50 227.49L495.90 231.99Z" stroke="#0000ff" stroke-width="0.6" fill="none"/>
<path d="M503.65 221.99L508.85 221.99L506.25 226.49Z" stroke="#0000ff" stroke-width="0.6" fill="none"/>
<path d="M514.00 227.03L519.20 227.03L516.60 231.53Z" stroke="#0000ff" stroke-width="0.6" fill="none"/>
<path d="M524.35 227.95L529.55 227.95L526.95 232.45Z" stroke="#0000ff" stroke-width="0.6" fill="none"/>
<path d="M534.70 214.21L539.90 214.21L537.30 218.71Z" stroke="#0000ff" stroke-width="0.6" fill="none"/>
<path d="M71.55 270.85V316.27M123.30 270.85V316.27M175.05 270.85V316.27M226.80 270.85V316.27M278.55 270.85V316.27M330.30 270.85V316.27M382.05 270.85V316.27M433.80 270.85V316.27M485.55 270.85V316.27M30.15 293.56H537.30" stroke="#dedede" stroke-width="0.7" fill="none"/>
<rect x="30.15" y="270.85" width="507.15" height="45.42" fill="none" stroke="#2e2e2e" stroke-width="0.7"/>
<path d="M71.55 316.27v-4.8M71.55 270.85v4.8M123.30 316.27v-4.8M123.30 270.85v4.8M175.05 316.27v-4.8M175.05 270.85v4.8M226.80 316.27v-4.8M226.80 270.85v4.8M278.55 316.27v-4.8M278.55 270.85v4.8M330.30 316.27v-4.8M330.30 270.85v4.8M382.05 316.27v-4.8M382.05 270.85v4.8M433.80 316.27v-4.8M433.80 270.85v4.8M485.55 316.27v-4.8M485.55 270.85v4.8M30.15 293.56h4.8M537.30 293.56h-4.8" stroke="#2e2e2e" stroke-width="0.7" fill="none"/>
<text x="71.55" y="326.67" font-size="7.1" fill="#262626" text-anchor="middle">5</text>
<text x="123.30" y="326.67" font-size="7.1" fill="#262626" text-anchor="middle">10</text>
<text x="175.05" y="326.67" font-size="7.1" fill="#262626" text-anchor="middle">15</text>
<text x="226.80" y="326.67" font-size="7.1" fill="#262626" text-anchor="middle">20</text>
<text x="278.55" y="326.67" font-size="7.1" fill="#262626" text-anchor="middle">25</text>
<text x="330.30" y="326.67" font-size="7.1" fill="#262626" text-anchor="middle">30</text>
<text x="382.05" y="326.67" font-size="7.1" fill="#262626" text-anchor="middle">35</text>
<text x="433.80" y="326.67" font-size="7.1" fill="#262626" text-anchor="middle">40</text>
<text x="485.55" y="326.67" font-size="7.1" fill="#262626" text-anchor="middle">45</text>
<text x="537.30" y="326.67" font-size="7.1" fill="#262626" text-anchor="middle">50</text>
<text x="27.35" y="319.77" font-size="7.1" fill="#262626" text-anchor="end">0</text>
<text x="27.35" y="297.06" font-size="7.1" fill="#262626" text-anchor="end">5</text>
<text x="27.35" y="274.35" font-size="7.1" fill="#262626" text-anchor="end">10</text>
<text x="284.32" y="336.97" font-size="7.9" fill="#262626" stroke="#262626" stroke-width="0.15" text-anchor="middle">Time</text>
<text transform="translate(15.8 293.76) rotate(-90)" font-size="7.9" fill="#262626" stroke="#262626" stroke-width="0.15" text-anchor="middle">OSPA Dist</text>
<text x="284.22" y="263.85" font-size="8.1" fill="#1a1a1a" stroke="#1a1a1a" stroke-width="0.18" text-anchor="middle">S<tspan font-size="6.48" dy="3.6">bs</tspan><tspan dy="-3.6">=4</tspan></text>
<path d="M30.15 270.85L40.50 293.90L50.85 291.14L61.20 292.06L71.55 294.82L81.90 302.19L92.25 299.43L102.60 298.05L112.95 306.34L123.30 309.10L133.65 310.94L144.00 312.32L154.35 310.48L164.70 307.26L175.05 310.94L185.40 311.86L195.75 312.32L206.10 309.10L216.45 304.03L226.80 304.95L237.15 310.94L247.50 304.03L257.85 313.25L268.20 307.72M330.30 270.85L340.65 297.12L351.00 304.03L361.35 292.52L371.70 299.89L382.05 307.72L392.40 309.56L402.75 310.02L413.10 310.94L423.45 312.32L433.80 305.88L444.15 306.34L454.50 305.42L464.85 310.48L475.20 310.94L485.55 297.58L495.90 314.63L506.25 314.63L516.60 313.25L526.95 312.78" stroke="#000000" stroke-width="0.55" fill="none" stroke-linejoin="round"/>
<path d="M28.05 270.85L32.25 270.85M28.67 269.37L31.63 272.33M30.15 268.75L30.15 272.95M31.63 269.37L28.67 272.33" stroke="#000000" stroke-width="0.6" fill="none"/>
<path d="M38.40 293.90L42.60 293.90M39.02 292.42L41.98 295.38M40.50 291.80L40.50 296.00M41.98 292.42L39.02 295.38" stroke="#000000" stroke-width="0.6" fill="none"/>
<path d="M48.75 291.14L52.95 291.14M49.37 289.65L52.33 292.62M50.85 289.04L50.85 293.24M52.33 289.65L49.37 292.62" stroke="#000000" stroke-width="0.6" fill="none"/>
<path d="M59.10 292.06L63.30 292.06M59.72 290.57L62.68 293.54M61.20 289.96L61.20 294.16M62.68 290.57L59.72 293.54" stroke="#000000" stroke-width="0.6" fill="none"/>
<path d="M69.45 294.82L73.65 294.82M70.07 293.34L73.03 296.31M71.55 292.72L71.55 296.92M73.03 293.34L70.07 296.31" stroke="#000000" stroke-width="0.6" fill="none"/>
<path d="M79.80 302.19L84.00 302.19M80.42 300.71L83.38 303.68M81.90 300.09L81.90 304.29M83.38 300.71L80.42 303.68" stroke="#000000" stroke-width="0.6" fill="none"/>
<path d="M90.15 299.43L94.35 299.43M90.77 297.94L93.73 300.91M92.25 297.33L92.25 301.53M93.73 297.94L90.77 300.91" stroke="#000000" stroke-width="0.6" fill="none"/>
<path d="M100.50 298.05L104.70 298.05M101.12 296.56L104.08 299.53M102.60 295.95L102.60 300.15M104.08 296.56L101.12 299.53" stroke="#000000" stroke-width="0.6" fill="none"/>
<path d="M110.85 306.34L115.05 306.34M111.47 304.85L114.43 307.82M112.95 304.24L112.95 308.44M114.43 304.85L111.47 307.82" stroke="#000000" stroke-width="0.6" fill="none"/>
<path d="M121.20 309.10L125.40 309.10M121.82 307.61L124.78 310.58M123.30 307.00L123.30 311.20M124.78 307.61L121.82 310.58" stroke="#000000" stroke-width="0.6" fill="none"/>
<path d="M131.55 310.94L135.75 310.94M132.17 309.46L135.13 312.43M133.65 308.84L133.65 313.04M135.13 309.46L132.17 312.43" stroke="#000000" stroke-width="0.6" fill="none"/>
<path d="M141.90 312.32L146.10 312.32M142.52 310.84L145.48 313.81M144.00 310.22L144.00 314.42M145.48 310.84L142.52 313.81" stroke="#000000" stroke-width="0.6" fill="none"/>
<path d="M152.25 310.48L156.45 310.48M152.87 309.00L155.83 311.97M154.35 308.38L154.35 312.58M155.83 309.00L152.87 311.97" stroke="#000000" stroke-width="0.6" fill="none"/>
<path d="M162.60 307.26L166.80 307.26M163.22 305.77L166.18 308.74M164.70 305.16L164.70 309.36M166.18 305.77L163.22 308.74" stroke="#000000" stroke-width="0.6" fill="none"/>
<path d="M172.95 310.94L177.15 310.94M173.57 309.46L176.53 312.43M175.05 308.84L175.05 313.04M176.53 309.46L173.57 312.43" stroke="#000000" stroke-width="0.6" fill="none"/>
<path d="M183.30 311.86L187.50 311.86M183.92 310.38L186.88 313.35M185.40 309.76L185.40 313.96M186.88 310.38L183.92 313.35" stroke="#000000" stroke-width="0.6" fill="none"/>
<path d="M193.65 312.32L197.85 312.32M194.27 310.84L197.23 313.81M195.75 310.22L195.75 314.42M197.23 310.84L194.27 313.81" stroke="#000000" stroke-width="0.6" fill="none"/>
<path d="M204.00 309.10L208.20 309.10M204.62 307.61L207.58 310.58M206.10 307.00L206.10 311.20M207.58 307.61L204.62 310.58" stroke="#000000" stroke-width="0.6" fill="none"/>
<path d="M214.35 304.03L218.55 304.03M214.97 302.55L217.93 305.52M216.45 301.93L216.45 306.13M217.93 302.55L214.97 305.52" stroke="#000000" stroke-width="0.6" fill="none"/>
<path d="M224.70 304.95L228.90 304.95M225.32 303.47L228.28 306.44M226.80 302.85L226.80 307.05M228.28 303.47L225.32 306.44" stroke="#000000" stroke-width="0.6" fill="none"/>
<path d="M235.05 310.94L239.25 310.94M235.67 309.46L238.63 312.43M237.15 308.84L237.15 313.04M238.63 309.46L235.67 312.43" stroke="#000000" stroke-width="0.6" fill="none"/>
<path d="M245.40 304.03L249.60 304.03M246.02 302.55L248.98 305.52M247.50 301.93L247.50 306.13M248.98 302.55L246.02 305.52" stroke="#000000" stroke-width="0.6" fill="none"/>
<path d="M255.75 313.25L259.95 313.25M256.37 311.76L259.33 314.73M257.85 311.15L257.85 315.35M259.33 311.76L256.37 314.73" stroke="#000000" stroke-width="0.6" fill="none"/>
<path d="M266.10 307.72L270.30 307.72M266.72 306.23L269.68 309.20M268.20 305.62L268.20 309.82M269.68 306.23L266.72 309.20" stroke="#000000" stroke-width="0.6" fill="none"/>
<path d="M276.45 270.85L280.65 270.85M277.07 269.37L280.03 272.33M278.55 268.75L278.55 272.95M280.03 269.37L277.07 272.33" stroke="#000000" stroke-width="0.6" fill="none"/>
<path d="M286.80 270.85L291.00 270.85M287.42 269.37L290.38 272.33M288.90 268.75L288.90 272.95M290.38 269.37L287.42 272.33" stroke="#000000" stroke-width="0.6" fill="none"/>
<path d="M297.15 270.85L301.35 270.85M297.77 269.37L300.73 272.33M299.25 268.75L299.25 272.95M300.73 269.37L297.77 272.33" stroke="#000000" stroke-width="0.6" fill="none"/>
<path d="M307.50 270.85L311.70 270.85M308.12 269.37L311.08 272.33M309.60 268.75L309.60 272.95M311.08 269.37L308.12 272.33" stroke="#000000" stroke-width="0.6" fill="none"/>
<path d="M317.85 270.85L322.05 270.85M318.47 269.37L321.43 272.33M319.95 268.75L319.95 272.95M321.43 269.37L318.47 272.33" stroke="#000000" stroke-width="0.6" fill="none"/>
<path d="M328.20 270.85L332.40 270.85M328.82 269.37L331.78 272.33M330.30 268.75L330.30 272.95M331.78 269.37L328.82 272.33" stroke="#000000" stroke-width="0.6" fill="none"/>
<path d="M338.55 297.12L342.75 297.12M339.17 295.64L342.13 298.61M340.65 295.02L340.65 299.22M342.13 295.64L339.17 298.61" stroke="#000000" stroke-width="0.6" fill="none"/>
<path d="M348.90 304.03L353.10 304.03M349.52 302.55L352.48 305.52M351.00 301.93L351.00 306.13M352.48 302.55L349.52 305.52" stroke="#000000" stroke-width="0.6" fill="none"/>
<path d="M359.25 292.52L363.45 292.52M359.87 291.03L362.83 294.00M361.35 290.42L361.35 294.62M362.83 291.03L359.87 294.00" stroke="#000000" stroke-width="0.6" fill="none"/>
<path d="M369.60 299.89L373.80 299.89M370.22 298.40L373.18 301.37M371.70 297.79L371.70 301.99M373.18 298.40L370.22 301.37" stroke="#000000" stroke-width="0.6" fill="none"/>
<path d="M379.95 307.72L384.15 307.72M380.57 306.23L383.53 309.20M382.05 305.62L382.05 309.82M383.53 306.23L380.57 309.20" stroke="#000000" stroke-width="0.6" fill="none"/>
<path d="M390.30 309.56L394.50 309.56M390.92 308.08L393.88 311.05M392.40 307.46L392.40 311.66M393.88 308.08L390.92 311.05" stroke="#000000" stroke-width="0.6" fill="none"/>
<path d="M400.65 310.02L404.85 310.02M401.27 308.54L404.23 311.51M402.75 307.92L402.75 312.12M404.23 308.54L401.27 311.51" stroke="#000000" stroke-width="0.6" fill="none"/>
<path d="M411.00 310.94L415.20 310.94M411.62 309.46L414.58 312.43M413.10 308.84L413.10 313.04M414.58 309.46L411.62 312.43" stroke="#000000" stroke-width="0.6" fill="none"/>
<path d="M421.35 312.32L425.55 312.32M421.97 310.84L424.93 313.81M423.45 310.22L423.45 314.42M424.93 310.84L421.97 313.81" stroke="#000000" stroke-width="0.6" fill="none"/>
<path d="M431.70 305.88L435.90 305.88M432.32 304.39L435.28 307.36M433.80 303.78L433.80 307.98M435.28 304.39L432.32 307.36" stroke="#000000" stroke-width="0.6" fill="none"/>
<path d="M442.05 306.34L446.25 306.34M442.67 304.85L445.63 307.82M444.15 304.24L444.15 308.44M445.63 304.85L442.67 307.82" stroke="#000000" stroke-width="0.6" fill="none"/>
<path d="M452.40 305.42L456.60 305.42M453.02 303.93L455.98 306.90M454.50 303.31L454.50 307.52M455.98 303.93L453.02 306.90" stroke="#000000" stroke-width="0.6" fill="none"/>
<path d="M462.75 310.48L466.95 310.48M463.37 309.00L466.33 311.97M464.85 308.38L464.85 312.58M466.33 309.00L463.37 311.97" stroke="#000000" stroke-width="0.6" fill="none"/>
<path d="M473.10 310.94L477.30 310.94M473.72 309.46L476.68 312.43M475.20 308.84L475.20 313.04M476.68 309.46L473.72 312.43" stroke="#000000" stroke-width="0.6" fill="none"/>
<path d="M483.45 297.58L487.65 297.58M484.07 296.10L487.03 299.07M485.55 295.48L485.55 299.68M487.03 296.10L484.07 299.07" stroke="#000000" stroke-width="0.6" fill="none"/>
<path d="M493.80 314.63L498.00 314.63M494.42 313.14L497.38 316.11M495.90 312.53L495.90 316.73M497.38 313.14L494.42 316.11" stroke="#000000" stroke-width="0.6" fill="none"/>
<path d="M504.15 314.63L508.35 314.63M504.77 313.14L507.73 316.11M506.25 312.53L506.25 316.73M507.73 313.14L504.77 316.11" stroke="#000000" stroke-width="0.6" fill="none"/>
<path d="M514.50 313.25L518.70 313.25M515.12 311.76L518.08 314.73M516.60 311.15L516.60 315.35M518.08 311.76L515.12 314.73" stroke="#000000" stroke-width="0.6" fill="none"/>
<path d="M524.85 312.78L529.05 312.78M525.47 311.30L528.43 314.27M526.95 310.68L526.95 314.88M528.43 311.30L525.47 314.27" stroke="#000000" stroke-width="0.6" fill="none"/>
<path d="M535.20 298.51L539.40 298.51M535.82 297.02L538.78 299.99M537.30 296.41L537.30 300.61M538.78 297.02L535.82 299.99" stroke="#000000" stroke-width="0.6" fill="none"/>
<path d="M30.15 284.69L40.50 300.81L50.85 298.51L61.20 298.05L71.55 303.11L81.90 310.94L92.25 307.72L102.60 310.02L112.95 311.86L123.30 311.86L133.65 310.02L144.00 312.78L154.35 307.26L164.70 311.86L175.05 310.02L185.40 310.94L195.75 312.78L206.10 311.86L216.45 308.64L226.80 304.49L237.15 270.85L247.50 270.85L257.85 270.85L268.20 270.85L278.55 270.85M330.30 270.85L340.65 299.89L351.00 312.32L361.35 306.34L371.70 311.86L382.05 311.40L392.40 310.94L402.75 304.95L413.10 307.72L423.45 313.71L433.80 311.86M475.20 311.86L485.55 301.73L495.90 310.94L506.25 306.34M526.95 312.32L537.30 298.51" stroke="#ff0000" stroke-width="0.62" fill="none" stroke-linejoin="round"/>
<circle cx="30.15" cy="284.69" r="1.95" stroke="#ff0000" stroke-width="0.6" fill="none"/>
<circle cx="40.50" cy="300.81" r="1.95" stroke="#ff0000" stroke-width="0.6" fill="none"/>
<circle cx="50.85" cy="298.51" r="1.95" stroke="#ff0000" stroke-width="0.6" fill="none"/>
<circle cx="61.20" cy="298.05" r="1.95" stroke="#ff0000" stroke-width="0.6" fill="none"/>
<circle cx="71.55" cy="303.11" r="1.95" stroke="#ff0000" stroke-width="0.6" fill="none"/>
<circle cx="81.90" cy="310.94" r="1.95" stroke="#ff0000" stroke-width="0.6" fill="none"/>
<circle cx="92.25" cy="307.72" r="1.95" stroke="#ff0000" stroke-width="0.6" fill="none"/>
<circle cx="102.60" cy="310.02" r="1.95" stroke="#ff0000" stroke-width="0.6" fill="none"/>
<circle cx="112.95" cy="311.86" r="1.95" stroke="#ff0000" stroke-width="0.6" fill="none"/>
<circle cx="123.30" cy="311.86" r="1.95" stroke="#ff0000" stroke-width="0.6" fill="none"/>
<circle cx="133.65" cy="310.02" r="1.95" stroke="#ff0000" stroke-width="0.6" fill="none"/>
<circle cx="144.00" cy="312.78" r="1.95" stroke="#ff0000" stroke-width="0.6" fill="none"/>
<circle cx="154.35" cy="307.26" r="1.95" stroke="#ff0000" stroke-width="0.6" fill="none"/>
<circle cx="164.70" cy="311.86" r="1.95" stroke="#ff0000" stroke-width="0.6" fill="none"/>
<circle cx="175.05" cy="310.02" r="1.95" stroke="#ff0000" stroke-width="0.6" fill="none"/>
<circle cx="185.40" cy="310.94" r="1.95" stroke="#ff0000" stroke-width="0.6" fill="none"/>
<circle cx="195.75" cy="312.78" r="1.95" stroke="#ff0000" stroke-width="0.6" fill="none"/>
<circle cx="206.10" cy="311.86" r="1.95" stroke="#ff0000" stroke-width="0.6" fill="none"/>
<circle cx="216.45" cy="308.64" r="1.95" stroke="#ff0000" stroke-width="0.6" fill="none"/>
<circle cx="226.80" cy="304.49" r="1.95" stroke="#ff0000" stroke-width="0.6" fill="none"/>
<circle cx="237.15" cy="270.85" r="1.95" stroke="#ff0000" stroke-width="0.6" fill="none"/>
<circle cx="247.50" cy="270.85" r="1.95" stroke="#ff0000" stroke-width="0.6" fill="none"/>
<circle cx="257.85" cy="270.85" r="1.95" stroke="#ff0000" stroke-width="0.6" fill="none"/>
<circle cx="268.20" cy="270.85" r="1.95" stroke="#ff0000" stroke-width="0.6" fill="none"/>
<circle cx="278.55" cy="270.85" r="1.95" stroke="#ff0000" stroke-width="0.6" fill="none"/>
<circle cx="288.90" cy="270.85" r="1.95" stroke="#ff0000" stroke-width="0.6" fill="none"/>
<circle cx="299.25" cy="270.85" r="1.95" stroke="#ff0000" stroke-width="0.6" fill="none"/>
<circle cx="309.60" cy="270.85" r="1.95" stroke="#ff0000" stroke-width="0.6" fill="none"/>
<circle cx="319.95" cy="270.85" r="1.95" stroke="#ff0000" stroke-width="0.6" fill="none"/>
<circle cx="330.30" cy="270.85" r="1.95" stroke="#ff0000" stroke-width="0.6" fill="none"/>
<circle cx="340.65" cy="299.89" r="1.95" stroke="#ff0000" stroke-width="0.6" fill="none"/>
<circle cx="351.00" cy="312.32" r="1.95" stroke="#ff0000" stroke-width="0.6" fill="none"/>
<circle cx="361.35" cy="306.34" r="1.95" stroke="#ff0000" stroke-width="0.6" fill="none"/>
<circle cx="371.70" cy="311.86" r="1.95" stroke="#ff0000" stroke-width="0.6" fill="none"/>
<circle cx="382.05" cy="311.40" r="1.95" stroke="#ff0000" stroke-width="0.6" fill="none"/>
<circle cx="392.40" cy="310.94" r="1.95" stroke="#ff0000" stroke-width="0.6" fill="none"/>
<circle cx="402.75" cy="304.95" r="1.95" stroke="#ff0000" stroke-width="0.6" fill="none"/>
<circle cx="413.10" cy="307.72" r="1.95" stroke="#ff0000" stroke-width="0.6" fill="none"/>
<circle cx="423.45" cy="313.71" r="1.95" stroke="#ff0000" stroke-width="0.6" fill="none"/>
<circle cx="433.80" cy="311.86" r="1.95" stroke="#ff0000" stroke-width="0.6" fill="none"/>
<circle cx="444.15" cy="310.94" r="1.95" stroke="#ff0000" stroke-width="0.6" fill="none"/>
<circle cx="454.50" cy="311.86" r="1.95" stroke="#ff0000" stroke-width="0.6" fill="none"/>
<circle cx="464.85" cy="313.25" r="1.95" stroke="#ff0000" stroke-width="0.6" fill="none"/>
<circle cx="475.20" cy="311.86" r="1.95" stroke="#ff0000" stroke-width="0.6" fill="none"/>
<circle cx="485.55" cy="301.73" r="1.95" stroke="#ff0000" stroke-width="0.6" fill="none"/>
<circle cx="495.90" cy="310.94" r="1.95" stroke="#ff0000" stroke-width="0.6" fill="none"/>
<circle cx="506.25" cy="306.34" r="1.95" stroke="#ff0000" stroke-width="0.6" fill="none"/>
<circle cx="516.60" cy="311.40" r="1.95" stroke="#ff0000" stroke-width="0.6" fill="none"/>
<circle cx="526.95" cy="312.32" r="1.95" stroke="#ff0000" stroke-width="0.6" fill="none"/>
<circle cx="537.30" cy="298.51" r="1.95" stroke="#ff0000" stroke-width="0.6" fill="none"/>
<path d="M30.15 284.69L40.50 299.89L50.85 298.51L61.20 298.97L71.55 305.42L81.90 313.71L92.25 309.56L102.60 312.32L112.95 312.78L123.30 312.78L133.65 310.48L144.00 314.17L154.35 307.26L164.70 313.25L175.05 312.32L185.40 312.78L195.75 313.71L206.10 312.78L216.45 309.56L226.80 305.42L237.15 314.63L247.50 310.02L257.85 314.63L268.20 308.18L278.55 270.85L288.90 270.85L299.25 270.85L309.60 270.85L319.95 270.85L330.30 270.85L340.65 298.97L351.00 310.94L361.35 302.65L371.70 310.02L382.05 310.02L392.40 309.56L402.75 303.57L413.10 306.34L423.45 312.78L433.80 311.40L444.15 310.94L454.50 311.86L464.85 312.78L475.20 311.40L485.55 303.57L495.90 312.32L506.25 306.34L516.60 311.86L526.95 312.78L537.30 299.43" stroke="#0000ff" stroke-width="0.72" fill="none" stroke-linejoin="round"/>
<path d="M27.55 283.09L32.75 283.09L30.15 287.59Z" stroke="#0000ff" stroke-width="0.6" fill="none"/>
<path d="M37.90 298.29L43.10 298.29L40.50 302.79Z" stroke="#0000ff" stroke-width="0.6" fill="none"/>
<path d="M48.25 296.91L53.45 296.91L50.85 301.41Z" stroke="#0000ff" stroke-width="0.6" fill="none"/>
<path d="M58.60 297.37L63.80 297.37L61.20 301.87Z" stroke="#0000ff" stroke-width="0.6" fill="none"/>
<path d="M68.95 303.81L74.15 303.81L71.55 308.31Z" stroke="#0000ff" stroke-width="0.6" fill="none"/>
<path d="M79.30 312.11L84.50 312.11L81.90 316.61Z" stroke="#0000ff" stroke-width="0.6" fill="none"/>
<path d="M89.65 307.96L94.85 307.96L92.25 312.46Z" stroke="#0000ff" stroke-width="0.6" fill="none"/>
<path d="M100.00 310.72L105.20 310.72L102.60 315.22Z" stroke="#0000ff" stroke-width="0.6" fill="none"/>
<path d="M110.35 311.18L115.55 311.18L112.95 315.68Z" stroke="#0000ff" stroke-width="0.6" fill="none"/>
<path d="M120.70 311.18L125.90 311.18L123.30 315.68Z" stroke="#0000ff" stroke-width="0.6" fill="none"/>
<path d="M131.05 308.88L136.25 308.88L133.65 313.38Z" stroke="#0000ff" stroke-width="0.6" fill="none"/>
<path d="M141.40 312.57L146.60 312.57L144.00 317.07Z" stroke="#0000ff" stroke-width="0.6" fill="none"/>
<path d="M151.75 305.66L156.95 305.66L154.35 310.16Z" stroke="#0000ff" stroke-width="0.6" fill="none"/>
<path d="M162.10 311.65L167.30 311.65L164.70 316.15Z" stroke="#0000ff" stroke-width="0.6" fill="none"/>
<path d="M172.45 310.72L177.65 310.72L175.05 315.22Z" stroke="#0000ff" stroke-width="0.6" fill="none"/>
<path d="M182.80 311.18L188.00 311.18L185.40 315.68Z" stroke="#0000ff" stroke-width="0.6" fill="none"/>
<path d="M193.15 312.11L198.35 312.11L195.75 316.61Z" stroke="#0000ff" stroke-width="0.6" fill="none"/>
<path d="M203.50 311.18L208.70 311.18L206.10 315.68Z" stroke="#0000ff" stroke-width="0.6" fill="none"/>
<path d="M213.85 307.96L219.05 307.96L216.45 312.46Z" stroke="#0000ff" stroke-width="0.6" fill="none"/>
<path d="M224.20 303.81L229.40 303.81L226.80 308.31Z" stroke="#0000ff" stroke-width="0.6" fill="none"/>
<path d="M234.55 313.03L239.75 313.03L237.15 317.53Z" stroke="#0000ff" stroke-width="0.6" fill="none"/>
<path d="M244.90 308.42L250.10 308.42L247.50 312.92Z" stroke="#0000ff" stroke-width="0.6" fill="none"/>
<path d="M255.25 313.03L260.45 313.03L257.85 317.53Z" stroke="#0000ff" stroke-width="0.6" fill="none"/>
<path d="M265.60 306.58L270.80 306.58L268.20 311.08Z" stroke="#0000ff" stroke-width="0.6" fill="none"/>
<path d="M275.95 269.25L281.15 269.25L278.55 273.75Z" stroke="#0000ff" stroke-width="0.6" fill="none"/>
<path d="M286.30 269.25L291.50 269.25L288.90 273.75Z" stroke="#0000ff" stroke-width="0.6" fill="none"/>
<path d="M296.65 269.25L301.85 269.25L299.25 273.75Z" stroke="#0000ff" stroke-width="0.6" fill="none"/>
<path d="M307.00 269.25L312.20 269.25L309.60 273.75Z" stroke="#0000ff" stroke-width="0.6" fill="none"/>
<path d="M317.35 269.25L322.55 269.25L319.95 273.75Z" stroke="#0000ff" stroke-width="0.6" fill="none"/>
<path d="M327.70 269.25L332.90 269.25L330.30 273.75Z" stroke="#0000ff" stroke-width="0.6" fill="none"/>
<path d="M338.05 297.37L343.25 297.37L340.65 301.87Z" stroke="#0000ff" stroke-width="0.6" fill="none"/>
<path d="M348.40 309.34L353.60 309.34L351.00 313.84Z" stroke="#0000ff" stroke-width="0.6" fill="none"/>
<path d="M358.75 301.05L363.95 301.05L361.35 305.55Z" stroke="#0000ff" stroke-width="0.6" fill="none"/>
<path d="M369.10 308.42L374.30 308.42L371.70 312.92Z" stroke="#0000ff" stroke-width="0.6" fill="none"/>
<path d="M379.45 308.42L384.65 308.42L382.05 312.92Z" stroke="#0000ff" stroke-width="0.6" fill="none"/>
<path d="M389.80 307.96L395.00 307.96L392.40 312.46Z" stroke="#0000ff" stroke-width="0.6" fill="none"/>
<path d="M400.15 301.97L405.35 301.97L402.75 306.47Z" stroke="#0000ff" stroke-width="0.6" fill="none"/>
<path d="M410.50 304.74L415.70 304.74L413.10 309.24Z" stroke="#0000ff" stroke-width="0.6" fill="none"/>
<path d="M420.85 311.18L426.05 311.18L423.45 315.68Z" stroke="#0000ff" stroke-width="0.6" fill="none"/>
<path d="M431.20 309.80L436.40 309.80L433.80 314.30Z" stroke="#0000ff" stroke-width="0.6" fill="none"/>
<path d="M441.55 309.34L446.75 309.34L444.15 313.84Z" stroke="#0000ff" stroke-width="0.6" fill="none"/>
<path d="M451.90 310.26L457.10 310.26L454.50 314.76Z" stroke="#0000ff" stroke-width="0.6" fill="none"/>
<path d="M462.25 311.18L467.45 311.18L464.85 315.68Z" stroke="#0000ff" stroke-width="0.6" fill="none"/>
<path d="M472.60 309.80L477.80 309.80L475.20 314.30Z" stroke="#0000ff" stroke-width="0.6" fill="none"/>
<path d="M482.95 301.97L488.15 301.97L485.55 306.47Z" stroke="#0000ff" stroke-width="0.6" fill="none"/>
<path d="M493.30 310.72L498.50 310.72L495.90 315.22Z" stroke="#0000ff" stroke-width="0.6" fill="none"/>
<path d="M503.65 304.74L508.85 304.74L506.25 309.24Z" stroke="#0000ff" stroke-width="0.6" fill="none"/>
<path d="M514.00 310.26L519.20 310.26L516.60 314.76Z" stroke="#0000ff" stroke-width="0.6" fill="none"/>
<path d="M524.35 311.18L529.55 311.18L526.95 315.68Z" stroke="#0000ff" stroke-width="0.6" fill="none"/>
<path d="M534.70 297.83L539.90 297.83L537.30 302.33Z" stroke="#0000ff" stroke-width="0.6" fill="none"/>
<path d="M71.55 354.35V400.05M123.30 354.35V400.05M175.05 354.35V400.05M226.80 354.35V400.05M278.55 354.35V400.05M330.30 354.35V400.05M382.05 354.35V400.05M433.80 354.35V400.05M485.55 354.35V400.05M30.15 377.20H537.30" stroke="#dedede" stroke-width="0.7" fill="none"/>
<rect x="30.15" y="354.35" width="507.15" height="45.70" fill="none" stroke="#2e2e2e" stroke-width="0.7"/>
<path d="M71.55 400.05v-4.8M71.55 354.35v4.8M123.30 400.05v-4.8M123.30 354.35v4.8M175.05 400.05v-4.8M175.05 354.35v4.8M226.80 400.05v-4.8M226.80 354.35v4.8M278.55 400.05v-4.8M278.55 354.35v4.8M330.30 400.05v-4.8M330.30 354.35v4.8M382.05 400.05v-4.8M382.05 354.35v4.8M433.80 400.05v-4.8M433.80 354.35v4.8M485.55 400.05v-4.8M485.55 354.35v4.8M30.15 377.20h4.8M537.30 377.20h-4.8" stroke="#2e2e2e" stroke-width="0.7" fill="none"/>
<text x="71.55" y="410.45" font-size="7.1" fill="#262626" text-anchor="middle">5</text>
<text x="123.30" y="410.45" font-size="7.1" fill="#262626" text-anchor="middle">10</text>
<text x="175.05" y="410.45" font-size="7.1" fill="#262626" text-anchor="middle">15</text>
<text x="226.80" y="410.45" font-size="7.1" fill="#262626" text-anchor="middle">20</text>
<text x="278.55" y="410.45" font-size="7.1" fill="#262626" text-anchor="middle">25</text>
<text x="330.30" y="410.45" font-size="7.1" fill="#262626" text-anchor="middle">30</text>
<text x="382.05" y="410.45" font-size="7.1" fill="#262626" text-anchor="middle">35</text>
<text x="433.80" y="410.45" font-size="7.1" fill="#262626" text-anchor="middle">40</text>
<text x="485.55" y="410.45" font-size="7.1" fill="#262626" text-anchor="middle">45</text>
<text x="537.30" y="410.45" font-size="7.1" fill="#262626" text-anchor="middle">50</text>
<text x="27.35" y="403.55" font-size="7.1" fill="#262626" text-anchor="end">0</text>
<text x="27.35" y="380.70" font-size="7.1" fill="#262626" text-anchor="end">5</text>
<text x="27.35" y="357.85" font-size="7.1" fill="#262626" text-anchor="end">10</text>
<text x="284.32" y="420.75" font-size="7.9" fill="#262626" stroke="#262626" stroke-width="0.15" text-anchor="middle">Time</text>
<text transform="translate(15.8 377.40) rotate(-90)" font-size="7.9" fill="#262626" stroke="#262626" stroke-width="0.15" text-anchor="middle">OSPA Dist</text>
<text x="284.22" y="347.35" font-size="8.1" fill="#1a1a1a" stroke="#1a1a1a" stroke-width="0.18" text-anchor="middle">S<tspan font-size="6.48" dy="3.6">bs</tspan><tspan dy="-3.6">=5</tspan></text>
<path d="M30.15 354.35L40.50 377.06L50.85 373.86L61.20 375.23L71.55 377.98L81.90 384.85L92.25 382.56L102.60 382.10L112.95 390.34L123.30 393.09L133.65 394.47L144.00 396.30L154.35 393.55L164.70 389.43L175.05 394.92L185.40 396.76L195.75 395.38L206.10 393.09L216.45 388.51L226.80 389.89L237.15 393.09L247.50 385.76L257.85 396.76M330.30 354.35L340.65 380.27L351.00 387.60L361.35 376.15L371.70 383.02L382.05 390.34L392.40 392.18L402.75 392.18L413.10 391.26L423.45 394.92L433.80 385.76L444.15 387.14L454.50 386.22L464.85 392.18L475.20 393.09L485.55 380.27L495.90 395.84L506.25 398.13L516.60 396.30L526.95 394.92L537.30 382.56" stroke="#000000" stroke-width="0.55" fill="none" stroke-linejoin="round"/>
<path d="M28.05 354.35L32.25 354.35M28.67 352.87L31.63 355.83M30.15 352.25L30.15 356.45M31.63 352.87L28.67 355.83" stroke="#000000" stroke-width="0.6" fill="none"/>
<path d="M38.40 377.06L42.60 377.06M39.02 375.58L41.98 378.55M40.50 374.96L40.50 379.16M41.98 375.58L39.02 378.55" stroke="#000000" stroke-width="0.6" fill="none"/>
<path d="M48.75 373.86L52.95 373.86M49.37 372.37L52.33 375.34M50.85 371.76L50.85 375.96M52.33 372.37L49.37 375.34" stroke="#000000" stroke-width="0.6" fill="none"/>
<path d="M59.10 375.23L63.30 375.23M59.72 373.75L62.68 376.71M61.20 373.13L61.20 377.33M62.68 373.75L59.72 376.71" stroke="#000000" stroke-width="0.6" fill="none"/>
<path d="M69.45 377.98L73.65 377.98M70.07 376.49L73.03 379.46M71.55 375.88L71.55 380.08M73.03 376.49L70.07 379.46" stroke="#000000" stroke-width="0.6" fill="none"/>
<path d="M79.80 384.85L84.00 384.85M80.42 383.36L83.38 386.33M81.90 382.75L81.90 386.95M83.38 383.36L80.42 386.33" stroke="#000000" stroke-width="0.6" fill="none"/>
<path d="M90.15 382.56L94.35 382.56M90.77 381.07L93.73 384.04M92.25 380.46L92.25 384.66M93.73 381.07L90.77 384.04" stroke="#000000" stroke-width="0.6" fill="none"/>
<path d="M100.50 382.10L104.70 382.10M101.12 380.62L104.08 383.58M102.60 380.00L102.60 384.20M104.08 380.62L101.12 383.58" stroke="#000000" stroke-width="0.6" fill="none"/>
<path d="M110.85 390.34L115.05 390.34M111.47 388.86L114.43 391.83M112.95 388.24L112.95 392.44M114.43 388.86L111.47 391.83" stroke="#000000" stroke-width="0.6" fill="none"/>
<path d="M121.20 393.09L125.40 393.09M121.82 391.61L124.78 394.58M123.30 390.99L123.30 395.19M124.78 391.61L121.82 394.58" stroke="#000000" stroke-width="0.6" fill="none"/>
<path d="M131.55 394.47L135.75 394.47M132.17 392.98L135.13 395.95M133.65 392.37L133.65 396.57M135.13 392.98L132.17 395.95" stroke="#000000" stroke-width="0.6" fill="none"/>
<path d="M141.90 396.30L146.10 396.30M142.52 394.81L145.48 397.78M144.00 394.20L144.00 398.40M145.48 394.81L142.52 397.78" stroke="#000000" stroke-width="0.6" fill="none"/>
<path d="M152.25 393.55L156.45 393.55M152.87 392.07L155.83 395.03M154.35 391.45L154.35 395.65M155.83 392.07L152.87 395.03" stroke="#000000" stroke-width="0.6" fill="none"/>
<path d="M162.60 389.43L166.80 389.43M163.22 387.94L166.18 390.91M164.70 387.33L164.70 391.53M166.18 387.94L163.22 390.91" stroke="#000000" stroke-width="0.6" fill="none"/>
<path d="M172.95 394.92L177.15 394.92M173.57 393.44L176.53 396.41M175.05 392.82L175.05 397.02M176.53 393.44L173.57 396.41" stroke="#000000" stroke-width="0.6" fill="none"/>
<path d="M183.30 396.76L187.50 396.76M183.92 395.27L186.88 398.24M185.40 394.66L185.40 398.86M186.88 395.27L183.92 398.24" stroke="#000000" stroke-width="0.6" fill="none"/>
<path d="M193.65 395.38L197.85 395.38M194.27 393.90L197.23 396.87M195.75 393.28L195.75 397.48M197.23 393.90L194.27 396.87" stroke="#000000" stroke-width="0.6" fill="none"/>
<path d="M204.00 393.09L208.20 393.09M204.62 391.61L207.58 394.58M206.10 390.99L206.10 395.19M207.58 391.61L204.62 394.58" stroke="#000000" stroke-width="0.6" fill="none"/>
<path d="M214.35 388.51L218.55 388.51M214.97 387.03L217.93 390.00M216.45 386.41L216.45 390.61M217.93 387.03L214.97 390.00" stroke="#000000" stroke-width="0.6" fill="none"/>
<path d="M224.70 389.89L228.90 389.89M225.32 388.40L228.28 391.37M226.80 387.79L226.80 391.99M228.28 388.40L225.32 391.37" stroke="#000000" stroke-width="0.6" fill="none"/>
<path d="M235.05 393.09L239.25 393.09M235.67 391.61L238.63 394.58M237.15 390.99L237.15 395.19M238.63 391.61L235.67 394.58" stroke="#000000" stroke-width="0.6" fill="none"/>
<path d="M245.40 385.76L249.60 385.76M246.02 384.28L248.98 387.25M247.50 383.66L247.50 387.86M248.98 384.28L246.02 387.25" stroke="#000000" stroke-width="0.6" fill="none"/>
<path d="M255.75 396.76L259.95 396.76M256.37 395.27L259.33 398.24M257.85 394.66L257.85 398.86M259.33 395.27L256.37 398.24" stroke="#000000" stroke-width="0.6" fill="none"/>
<path d="M266.10 389.89L270.30 389.89M266.72 388.40L269.68 391.37M268.20 387.79L268.20 391.99M269.68 388.40L266.72 391.37" stroke="#000000" stroke-width="0.6" fill="none"/>
<path d="M276.45 354.35L280.65 354.35M277.07 352.87L280.03 355.83M278.55 352.25L278.55 356.45M280.03 352.87L277.07 355.83" stroke="#000000" stroke-width="0.6" fill="none"/>
<path d="M286.80 354.35L291.00 354.35M287.42 352.87L290.38 355.83M288.90 352.25L288.90 356.45M290.38 352.87L287.42 355.83" stroke="#000000" stroke-width="0.6" fill="none"/>
<path d="M297.15 354.35L301.35 354.35M297.77 352.87L300.73 355.83M299.25 352.25L299.25 356.45M300.73 352.87L297.77 355.83" stroke="#000000" stroke-width="0.6" fill="none"/>
<path d="M307.50 354.35L311.70 354.35M308.12 352.87L311.08 355.83M309.60 352.25L309.60 356.45M311.08 352.87L308.12 355.83" stroke="#000000" stroke-width="0.6" fill="none"/>
<path d="M317.85 354.35L322.05 354.35M318.47 352.87L321.43 355.83M319.95 352.25L319.95 356.45M321.43 352.87L318.47 355.83" stroke="#000000" stroke-width="0.6" fill="none"/>
<path d="M328.20 354.35L332.40 354.35M328.82 352.87L331.78 355.83M330.30 352.25L330.30 356.45M331.78 352.87L328.82 355.83" stroke="#000000" stroke-width="0.6" fill="none"/>
<path d="M338.55 380.27L342.75 380.27M339.17 378.78L342.13 381.75M340.65 378.17L340.65 382.37M342.13 378.78L339.17 381.75" stroke="#000000" stroke-width="0.6" fill="none"/>
<path d="M348.90 387.60L353.10 387.60M349.52 386.11L352.48 389.08M351.00 385.50L351.00 389.70M352.48 386.11L349.52 389.08" stroke="#000000" stroke-width="0.6" fill="none"/>
<path d="M359.25 376.15L363.45 376.15M359.87 374.66L362.83 377.63M361.35 374.05L361.35 378.25M362.83 374.66L359.87 377.63" stroke="#000000" stroke-width="0.6" fill="none"/>
<path d="M369.60 383.02L373.80 383.02M370.22 381.53L373.18 384.50M371.70 380.92L371.70 385.12M373.18 381.53L370.22 384.50" stroke="#000000" stroke-width="0.6" fill="none"/>
<path d="M379.95 390.34L384.15 390.34M380.57 388.86L383.53 391.83M382.05 388.24L382.05 392.44M383.53 388.86L380.57 391.83" stroke="#000000" stroke-width="0.6" fill="none"/>
<path d="M390.30 392.18L394.50 392.18M390.92 390.69L393.88 393.66M392.40 390.08L392.40 394.28M393.88 390.69L390.92 393.66" stroke="#000000" stroke-width="0.6" fill="none"/>
<path d="M400.65 392.18L404.85 392.18M401.27 390.69L404.23 393.66M402.75 390.08L402.75 394.28M404.23 390.69L401.27 393.66" stroke="#000000" stroke-width="0.6" fill="none"/>
<path d="M411.00 391.26L415.20 391.26M411.62 389.78L414.58 392.74M413.10 389.16L413.10 393.36M414.58 389.78L411.62 392.74" stroke="#000000" stroke-width="0.6" fill="none"/>
<path d="M421.35 394.92L425.55 394.92M421.97 393.44L424.93 396.41M423.45 392.82L423.45 397.02M424.93 393.44L421.97 396.41" stroke="#000000" stroke-width="0.6" fill="none"/>
<path d="M431.70 385.76L435.90 385.76M432.32 384.28L435.28 387.25M433.80 383.66L433.80 387.86M435.28 384.28L432.32 387.25" stroke="#000000" stroke-width="0.6" fill="none"/>
<path d="M442.05 387.14L446.25 387.14M442.67 385.65L445.63 388.62M444.15 385.04L444.15 389.24M445.63 385.65L442.67 388.62" stroke="#000000" stroke-width="0.6" fill="none"/>
<path d="M452.40 386.22L456.60 386.22M453.02 384.74L455.98 387.71M454.50 384.12L454.50 388.32M455.98 384.74L453.02 387.71" stroke="#000000" stroke-width="0.6" fill="none"/>
<path d="M462.75 392.18L466.95 392.18M463.37 390.69L466.33 393.66M464.85 390.08L464.85 394.28M466.33 390.69L463.37 393.66" stroke="#000000" stroke-width="0.6" fill="none"/>
<path d="M473.10 393.09L477.30 393.09M473.72 391.61L476.68 394.58M475.20 390.99L475.20 395.19M476.68 391.61L473.72 394.58" stroke="#000000" stroke-width="0.6" fill="none"/>
<path d="M483.45 380.27L487.65 380.27M484.07 378.78L487.03 381.75M485.55 378.17L485.55 382.37M487.03 378.78L484.07 381.75" stroke="#000000" stroke-width="0.6" fill="none"/>
<path d="M493.80 395.84L498.00 395.84M494.42 394.36L497.38 397.32M495.90 393.74L495.90 397.94M497.38 394.36L494.42 397.32" stroke="#000000" stroke-width="0.6" fill="none"/>
<path d="M504.15 398.13L508.35 398.13M504.77 396.65L507.73 399.61M506.25 396.03L506.25 400.23M507.73 396.65L504.77 399.61" stroke="#000000" stroke-width="0.6" fill="none"/>
<path d="M514.50 396.30L518.70 396.30M515.12 394.81L518.08 397.78M516.60 394.20L516.60 398.40M518.08 394.81L515.12 397.78" stroke="#000000" stroke-width="0.6" fill="none"/>
<path d="M524.85 394.92L529.05 394.92M525.47 393.44L528.43 396.41M526.95 392.82L526.95 397.02M528.43 393.44L525.47 396.41" stroke="#000000" stroke-width="0.6" fill="none"/>
<path d="M535.20 382.56L539.40 382.56M535.82 381.07L538.78 384.04M537.30 380.46L537.30 384.66M538.78 381.07L535.82 384.04" stroke="#000000" stroke-width="0.6" fill="none"/>
<path d="M71.55 388.05L81.90 396.76L92.25 393.09L102.60 394.01L112.95 396.30L123.30 395.84L133.65 393.55M144.00 397.21L154.35 393.09L164.70 396.30M206.10 393.55L216.45 391.26L226.80 354.35L237.15 354.35L247.50 354.35L257.85 354.35L268.20 354.35L278.55 354.35M330.30 354.35L340.65 383.47L351.00 394.47L361.35 387.60L371.70 394.92L382.05 391.26L392.40 394.01L402.75 386.68L413.10 389.43L423.45 395.84L433.80 393.09L444.15 394.01L454.50 394.47L464.85 394.47L475.20 393.55L485.55 383.93L495.90 394.01L506.25 388.51L516.60 394.01L526.95 394.92L537.30 379.81" stroke="#ff0000" stroke-width="0.62" fill="none" stroke-linejoin="round"/>
<circle cx="30.15" cy="367.90" r="1.95" stroke="#ff0000" stroke-width="0.6" fill="none"/>
<circle cx="40.50" cy="384.85" r="1.95" stroke="#ff0000" stroke-width="0.6" fill="none"/>
<circle cx="50.85" cy="380.27" r="1.95" stroke="#ff0000" stroke-width="0.6" fill="none"/>
<circle cx="61.20" cy="384.85" r="1.95" stroke="#ff0000" stroke-width="0.6" fill="none"/>
<circle cx="71.55" cy="388.05" r="1.95" stroke="#ff0000" stroke-width="0.6" fill="none"/>
<circle cx="81.90" cy="396.76" r="1.95" stroke="#ff0000" stroke-width="0.6" fill="none"/>
<circle cx="92.25" cy="393.09" r="1.95" stroke="#ff0000" stroke-width="0.6" fill="none"/>
<circle cx="102.60" cy="394.01" r="1.95" stroke="#ff0000" stroke-width="0.6" fill="none"/>
<circle cx="112.95" cy="396.30" r="1.95" stroke="#ff0000" stroke-width="0.6" fill="none"/>
<circle cx="123.30" cy="395.84" r="1.95" stroke="#ff0000" stroke-width="0.6" fill="none"/>
<circle cx="133.65" cy="393.55" r="1.95" stroke="#ff0000" stroke-width="0.6" fill="none"/>
<circle cx="144.00" cy="397.21" r="1.95" stroke="#ff0000" stroke-width="0.6" fill="none"/>
<circle cx="154.35" cy="393.09" r="1.95" stroke="#ff0000" stroke-width="0.6" fill="none"/>
<circle cx="164.70" cy="396.30" r="1.95" stroke="#ff0000" stroke-width="0.6" fill="none"/>
<circle cx="175.05" cy="396.76" r="1.95" stroke="#ff0000" stroke-width="0.6" fill="none"/>
<circle cx="185.40" cy="396.76" r="1.95" stroke="#ff0000" stroke-width="0.6" fill="none"/>
<circle cx="195.75" cy="396.76" r="1.95" stroke="#ff0000" stroke-width="0.6" fill="none"/>
<circle cx="206.10" cy="393.55" r="1.95" stroke="#ff0000" stroke-width="0.6" fill="none"/>
<circle cx="216.45" cy="391.26" r="1.95" stroke="#ff0000" stroke-width="0.6" fill="none"/>
<circle cx="226.80" cy="354.35" r="1.95" stroke="#ff0000" stroke-width="0.6" fill="none"/>
<circle cx="237.15" cy="354.35" r="1.95" stroke="#ff0000" stroke-width="0.6" fill="none"/>
<circle cx="247.50" cy="354.35" r="1.95" stroke="#ff0000" stroke-width="0.6" fill="none"/>
<circle cx="257.85" cy="354.35" r="1.95" stroke="#ff0000" stroke-width="0.6" fill="none"/>
<circle cx="268.20" cy="354.35" r="1.95" stroke="#ff0000" stroke-width="0.6" fill="none"/>
<circle cx="278.55" cy="354.35" r="1.95" stroke="#ff0000" stroke-width="0.6" fill="none"/>
<circle cx="288.90" cy="354.35" r="1.95" stroke="#ff0000" stroke-width="0.6" fill="none"/>
<circle cx="299.25" cy="354.35" r="1.95" stroke="#ff0000" stroke-width="0.6" fill="none"/>
<circle cx="309.60" cy="354.35" r="1.95" stroke="#ff0000" stroke-width="0.6" fill="none"/>
<circle cx="319.95" cy="354.35" r="1.95" stroke="#ff0000" stroke-width="0.6" fill="none"/>
<circle cx="330.30" cy="354.35" r="1.95" stroke="#ff0000" stroke-width="0.6" fill="none"/>
<circle cx="340.65" cy="383.47" r="1.95" stroke="#ff0000" stroke-width="0.6" fill="none"/>
<circle cx="351.00" cy="394.47" r="1.95" stroke="#ff0000" stroke-width="0.6" fill="none"/>
<circle cx="361.35" cy="387.60" r="1.95" stroke="#ff0000" stroke-width="0.6" fill="none"/>
<circle cx="371.70" cy="394.92" r="1.95" stroke="#ff0000" stroke-width="0.6" fill="none"/>
<circle cx="382.05" cy="391.26" r="1.95" stroke="#ff0000" stroke-width="0.6" fill="none"/>
<circle cx="392.40" cy="394.01" r="1.95" stroke="#ff0000" stroke-width="0.6" fill="none"/>
<circle cx="402.75" cy="386.68" r="1.95" stroke="#ff0000" stroke-width="0.6" fill="none"/>
<circle cx="413.10" cy="389.43" r="1.95" stroke="#ff0000" stroke-width="0.6" fill="none"/>
<circle cx="423.45" cy="395.84" r="1.95" stroke="#ff0000" stroke-width="0.6" fill="none"/>
<circle cx="433.80" cy="393.09" r="1.95" stroke="#ff0000" stroke-width="0.6" fill="none"/>
<circle cx="444.15" cy="394.01" r="1.95" stroke="#ff0000" stroke-width="0.6" fill="none"/>
<circle cx="454.50" cy="394.47" r="1.95" stroke="#ff0000" stroke-width="0.6" fill="none"/>
<circle cx="464.85" cy="394.47" r="1.95" stroke="#ff0000" stroke-width="0.6" fill="none"/>
<circle cx="475.20" cy="393.55" r="1.95" stroke="#ff0000" stroke-width="0.6" fill="none"/>
<circle cx="485.55" cy="383.93" r="1.95" stroke="#ff0000" stroke-width="0.6" fill="none"/>
<circle cx="495.90" cy="394.01" r="1.95" stroke="#ff0000" stroke-width="0.6" fill="none"/>
<circle cx="506.25" cy="388.51" r="1.95" stroke="#ff0000" stroke-width="0.6" fill="none"/>
<circle cx="516.60" cy="394.01" r="1.95" stroke="#ff0000" stroke-width="0.6" fill="none"/>
<circle cx="526.95" cy="394.92" r="1.95" stroke="#ff0000" stroke-width="0.6" fill="none"/>
<circle cx="537.30" cy="379.81" r="1.95" stroke="#ff0000" stroke-width="0.6" fill="none"/>
<path d="M30.15 367.90L40.50 384.85L50.85 380.27L61.20 384.85L71.55 388.05L81.90 395.84L92.25 391.26L102.60 393.09L112.95 394.47L123.30 394.92L133.65 393.09L144.00 396.76L154.35 392.18L164.70 395.84L175.05 396.30L185.40 396.76L195.75 396.76L206.10 393.55L216.45 389.89L226.80 388.05L237.15 396.76L247.50 392.18L257.85 396.76L268.20 389.89L278.55 354.35L288.90 354.35L299.25 354.35L309.60 354.35L319.95 354.35L330.30 354.35L340.65 384.39L351.00 397.67L361.35 389.89L371.70 398.13L382.05 392.18L392.40 395.84L402.75 388.97L413.10 392.18L423.45 398.59L433.80 395.84L444.15 396.76L454.50 397.21L464.85 397.21L475.20 396.76L485.55 386.22L495.90 396.30L506.25 392.18L516.60 396.76L526.95 396.76L537.30 382.56" stroke="#0000ff" stroke-width="0.72" fill="none" stroke-linejoin="round"/>
<path d="M27.55 366.30L32.75 366.30L30.15 370.80Z" stroke="#0000ff" stroke-width="0.6" fill="none"/>
<path d="M37.90 383.25L43.10 383.25L40.50 387.75Z" stroke="#0000ff" stroke-width="0.6" fill="none"/>
<path d="M48.25 378.67L53.45 378.67L50.85 383.17Z" stroke="#0000ff" stroke-width="0.6" fill="none"/>
<path d="M58.60 383.25L63.80 383.25L61.20 387.75Z" stroke="#0000ff" stroke-width="0.6" fill="none"/>
<path d="M68.95 386.45L74.15 386.45L71.55 390.95Z" stroke="#0000ff" stroke-width="0.6" fill="none"/>
<path d="M79.30 394.24L84.50 394.24L81.90 398.74Z" stroke="#0000ff" stroke-width="0.6" fill="none"/>
<path d="M89.65 389.66L94.85 389.66L92.25 394.16Z" stroke="#0000ff" stroke-width="0.6" fill="none"/>
<path d="M100.00 391.49L105.20 391.49L102.60 395.99Z" stroke="#0000ff" stroke-width="0.6" fill="none"/>
<path d="M110.35 392.87L115.55 392.87L112.95 397.37Z" stroke="#0000ff" stroke-width="0.6" fill="none"/>
<path d="M120.70 393.32L125.90 393.32L123.30 397.82Z" stroke="#0000ff" stroke-width="0.6" fill="none"/>
<path d="M131.05 391.49L136.25 391.49L133.65 395.99Z" stroke="#0000ff" stroke-width="0.6" fill="none"/>
<path d="M141.40 395.16L146.60 395.16L144.00 399.66Z" stroke="#0000ff" stroke-width="0.6" fill="none"/>
<path d="M151.75 390.58L156.95 390.58L154.35 395.08Z" stroke="#0000ff" stroke-width="0.6" fill="none"/>
<path d="M162.10 394.24L167.30 394.24L164.70 398.74Z" stroke="#0000ff" stroke-width="0.6" fill="none"/>
<path d="M172.45 394.70L177.65 394.70L175.05 399.20Z" stroke="#0000ff" stroke-width="0.6" fill="none"/>
<path d="M182.80 395.16L188.00 395.16L185.40 399.66Z" stroke="#0000ff" stroke-width="0.6" fill="none"/>
<path d="M193.15 395.16L198.35 395.16L195.75 399.66Z" stroke="#0000ff" stroke-width="0.6" fill="none"/>
<path d="M203.50 391.95L208.70 391.95L206.10 396.45Z" stroke="#0000ff" stroke-width="0.6" fill="none"/>
<path d="M213.85 388.29L219.05 388.29L216.45 392.79Z" stroke="#0000ff" stroke-width="0.6" fill="none"/>
<path d="M224.20 386.45L229.40 386.45L226.80 390.95Z" stroke="#0000ff" stroke-width="0.6" fill="none"/>
<path d="M234.55 395.16L239.75 395.16L237.15 399.66Z" stroke="#0000ff" stroke-width="0.6" fill="none"/>
<path d="M244.90 390.58L250.10 390.58L247.50 395.08Z" stroke="#0000ff" stroke-width="0.6" fill="none"/>
<path d="M255.25 395.16L260.45 395.16L257.85 399.66Z" stroke="#0000ff" stroke-width="0.6" fill="none"/>
<path d="M265.60 388.29L270.80 388.29L268.20 392.79Z" stroke="#0000ff" stroke-width="0.6" fill="none"/>
<path d="M275.95 352.75L281.15 352.75L278.55 357.25Z" stroke="#0000ff" stroke-width="0.6" fill="none"/>
<path d="M286.30 352.75L291.50 352.75L288.90 357.25Z" stroke="#0000ff" stroke-width="0.6" fill="none"/>
<path d="M296.65 352.75L301.85 352.75L299.25 357.25Z" stroke="#0000ff" stroke-width="0.6" fill="none"/>
<path d="M307.00 352.75L312.20 352.75L309.60 357.25Z" stroke="#0000ff" stroke-width="0.6" fill="none"/>
<path d="M317.35 352.75L322.55 352.75L319.95 357.25Z" stroke="#0000ff" stroke-width="0.6" fill="none"/>
<path d="M327.70 352.75L332.90 352.75L330.30 357.25Z" stroke="#0000ff" stroke-width="0.6" fill="none"/>
<path d="M338.05 382.79L343.25 382.79L340.65 387.29Z" stroke="#0000ff" stroke-width="0.6" fill="none"/>
<path d="M348.40 396.07L353.60 396.07L351.00 400.57Z" stroke="#0000ff" stroke-width="0.6" fill="none"/>
<path d="M358.75 388.29L363.95 388.29L361.35 392.79Z" stroke="#0000ff" stroke-width="0.6" fill="none"/>
<path d="M369.10 396.53L374.30 396.53L371.70 401.03Z" stroke="#0000ff" stroke-width="0.6" fill="none"/>
<path d="M379.45 390.58L384.65 390.58L382.05 395.08Z" stroke="#0000ff" stroke-width="0.6" fill="none"/>
<path d="M389.80 394.24L395.00 394.24L392.40 398.74Z" stroke="#0000ff" stroke-width="0.6" fill="none"/>
<path d="M400.15 387.37L405.35 387.37L402.75 391.87Z" stroke="#0000ff" stroke-width="0.6" fill="none"/>
<path d="M410.50 390.58L415.70 390.58L413.10 395.08Z" stroke="#0000ff" stroke-width="0.6" fill="none"/>
<path d="M420.85 396.99L426.05 396.99L423.45 401.49Z" stroke="#0000ff" stroke-width="0.6" fill="none"/>
<path d="M431.20 394.24L436.40 394.24L433.80 398.74Z" stroke="#0000ff" stroke-width="0.6" fill="none"/>
<path d="M441.55 395.16L446.75 395.16L444.15 399.66Z" stroke="#0000ff" stroke-width="0.6" fill="none"/>
<path d="M451.90 395.61L457.10 395.61L454.50 400.11Z" stroke="#0000ff" stroke-width="0.6" fill="none"/>
<path d="M462.25 395.61L467.45 395.61L464.85 400.11Z" stroke="#0000ff" stroke-width="0.6" fill="none"/>
<path d="M472.60 395.16L477.80 395.16L475.20 399.66Z" stroke="#0000ff" stroke-width="0.6" fill="none"/>
<path d="M482.95 384.62L488.15 384.62L485.55 389.12Z" stroke="#0000ff" stroke-width="0.6" fill="none"/>
<path d="M493.30 394.70L498.50 394.70L495.90 399.20Z" stroke="#0000ff" stroke-width="0.6" fill="none"/>
<path d="M503.65 390.58L508.85 390.58L506.25 395.08Z" stroke="#0000ff" stroke-width="0.6" fill="none"/>
<path d="M514.00 395.16L519.20 395.16L516.60 399.66Z" stroke="#0000ff" stroke-width="0.6" fill="none"/>
<path d="M524.35 395.16L529.55 395.16L526.95 399.66Z" stroke="#0000ff" stroke-width="0.6" fill="none"/>
<path d="M534.70 380.96L539.90 380.96L537.30 385.46Z" stroke="#0000ff" stroke-width="0.6" fill="none"/>
<rect x="491.2" y="23.0" width="41.60" height="26.90" fill="#fff" stroke="#555" stroke-width="0.9"/>
<path d="M493.2 28.0H513.5" stroke="#000000" stroke-width="0.62"/>
<path d="M501.30 28.00L505.50 28.00M501.92 26.52L504.88 29.48M503.40 25.90L503.40 30.10M504.88 26.52L501.92 29.48" stroke="#000000" stroke-width="0.6" fill="none"/>
<text x="515.6" y="30.30" font-size="6.3" fill="#1a1a1a">N-BS</text>
<path d="M493.2 36.7H513.5" stroke="#ff0000" stroke-width="0.62"/>
<circle cx="503.40" cy="36.70" r="1.95" stroke="#ff0000" stroke-width="0.6" fill="none"/>
<text x="515.6" y="39.00" font-size="6.3" fill="#1a1a1a">O-BS</text>
<path d="M493.2 45.5H513.5" stroke="#0000ff" stroke-width="0.62"/>
<path d="M500.80 43.90L506.00 43.90L503.40 48.40Z" stroke="#0000ff" stroke-width="0.6" fill="none"/>
<text x="515.6" y="47.80" font-size="6.3" fill="#1a1a1a">I-BS</text>
<text x="272.5" y="482.6" font-size="18.2" fill="#111" text-anchor="middle" style="font-family:'Liberation Serif',serif">(<tspan font-weight="bold">a</tspan>)</text>
</svg>
</body></html>
